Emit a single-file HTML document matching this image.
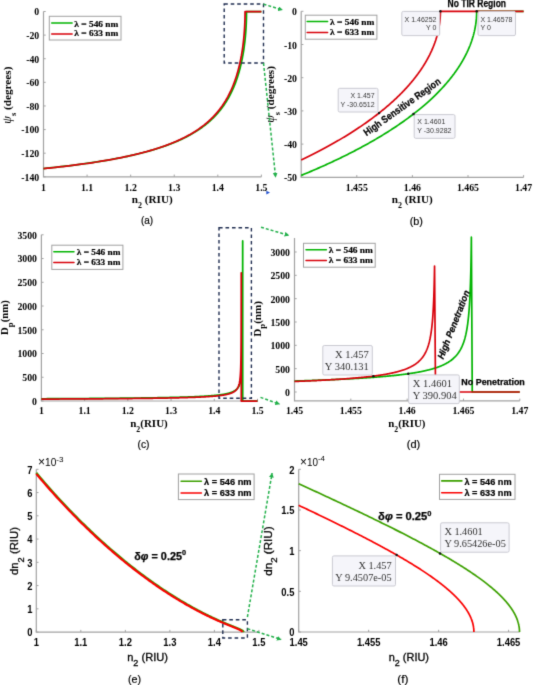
<!DOCTYPE html>
<html><head><meta charset="utf-8"><style>
html,body{margin:0;padding:0;background:#fff;overflow:hidden;}
svg{display:block;}
</style></head><body>
<svg width="533" height="685" viewBox="0 0 533 685">
<defs><filter id="soft" x="0" y="0" width="533" height="685" filterUnits="userSpaceOnUse" color-interpolation-filters="sRGB"><feConvolveMatrix order="3" kernelMatrix="0.0144 0.0912 0.0144 0.0912 0.5776 0.0912 0.0144 0.0912 0.0144" edgeMode="duplicate"/></filter></defs>
<rect width="533" height="685" fill="#fff"/>
<g filter="url(#soft)">
<rect width="533" height="685" fill="#fff"/>
<path d="M43.5 11.5 V176.8 H261.4" fill="none" stroke="#a2a2a2" stroke-width="1.2"/>
<path d="M43.5 176.8 v-2.2" stroke="#a2a2a2" stroke-width="1"/>
<path d="M87.08 176.8 v-2.2" stroke="#a2a2a2" stroke-width="1"/>
<path d="M130.66 176.8 v-2.2" stroke="#a2a2a2" stroke-width="1"/>
<path d="M174.24 176.8 v-2.2" stroke="#a2a2a2" stroke-width="1"/>
<path d="M217.82 176.8 v-2.2" stroke="#a2a2a2" stroke-width="1"/>
<path d="M261.4 176.8 v-2.2" stroke="#a2a2a2" stroke-width="1"/>
<path d="M43.5 11.5 h2.2" stroke="#a2a2a2" stroke-width="1"/>
<path d="M43.5 35.11 h2.2" stroke="#a2a2a2" stroke-width="1"/>
<path d="M43.5 58.73 h2.2" stroke="#a2a2a2" stroke-width="1"/>
<path d="M43.5 82.34 h2.2" stroke="#a2a2a2" stroke-width="1"/>
<path d="M43.5 105.96 h2.2" stroke="#a2a2a2" stroke-width="1"/>
<path d="M43.5 129.57 h2.2" stroke="#a2a2a2" stroke-width="1"/>
<path d="M43.5 153.19 h2.2" stroke="#a2a2a2" stroke-width="1"/>
<path d="M43.5 176.8 h2.2" stroke="#a2a2a2" stroke-width="1"/>
<text x="39.2" y="15.4" font-family='"Liberation Serif", serif' font-size="9.8" font-weight="bold" text-anchor="end" fill="#000">0</text>
<text x="39.2" y="39.01" font-family='"Liberation Serif", serif' font-size="9.8" font-weight="bold" text-anchor="end" fill="#000">-20</text>
<text x="39.2" y="62.63" font-family='"Liberation Serif", serif' font-size="9.8" font-weight="bold" text-anchor="end" fill="#000">-40</text>
<text x="39.2" y="86.24" font-family='"Liberation Serif", serif' font-size="9.8" font-weight="bold" text-anchor="end" fill="#000">-60</text>
<text x="39.2" y="109.86" font-family='"Liberation Serif", serif' font-size="9.8" font-weight="bold" text-anchor="end" fill="#000">-80</text>
<text x="39.2" y="133.47" font-family='"Liberation Serif", serif' font-size="9.8" font-weight="bold" text-anchor="end" fill="#000">-100</text>
<text x="39.2" y="157.09" font-family='"Liberation Serif", serif' font-size="9.8" font-weight="bold" text-anchor="end" fill="#000">-120</text>
<text x="39.2" y="180.7" font-family='"Liberation Serif", serif' font-size="9.8" font-weight="bold" text-anchor="end" fill="#000">-140</text>
<text x="43.5" y="190.9" font-family='"Liberation Serif", serif' font-size="9.8" font-weight="bold" text-anchor="middle" fill="#000">1</text>
<text x="87.08" y="190.9" font-family='"Liberation Serif", serif' font-size="9.8" font-weight="bold" text-anchor="middle" fill="#000">1.1</text>
<text x="130.66" y="190.9" font-family='"Liberation Serif", serif' font-size="9.8" font-weight="bold" text-anchor="middle" fill="#000">1.2</text>
<text x="174.24" y="190.9" font-family='"Liberation Serif", serif' font-size="9.8" font-weight="bold" text-anchor="middle" fill="#000">1.3</text>
<text x="217.82" y="190.9" font-family='"Liberation Serif", serif' font-size="9.8" font-weight="bold" text-anchor="middle" fill="#000">1.4</text>
<text x="261.4" y="190.9" font-family='"Liberation Serif", serif' font-size="9.8" font-weight="bold" text-anchor="middle" fill="#000">1.5</text>
<path d="M43.5 168.53 L45.52 168.33 L47.53 168.13 L49.53 167.92 L51.51 167.71 L53.48 167.5 L55.44 167.29 L57.38 167.08 L59.31 166.87 L61.23 166.65 L63.13 166.43 L65.02 166.21 L66.9 165.99 L68.76 165.77 L70.61 165.54 L72.45 165.31 L74.28 165.08 L76.09 164.85 L77.89 164.62 L79.68 164.38 L81.45 164.14 L83.21 163.9 L84.96 163.66 L86.7 163.42 L88.42 163.17 L90.14 162.92 L91.83 162.67 L93.52 162.42 L95.2 162.16 L96.86 161.91 L98.51 161.65 L100.15 161.39 L101.77 161.12 L103.39 160.86 L104.99 160.59 L106.58 160.32 L108.16 160.05 L109.72 159.77 L111.28 159.49 L112.82 159.21 L114.35 158.93 L115.87 158.65 L117.38 158.36 L118.87 158.07 L120.36 157.78 L121.83 157.49 L123.29 157.19 L124.74 156.89 L126.18 156.59 L127.6 156.28 L129.02 155.98 L130.42 155.67 L131.81 155.36 L133.2 155.04 L134.57 154.72 L135.93 154.4 L137.27 154.08 L138.61 153.76 L139.94 153.43 L141.25 153.1 L142.56 152.76 L143.85 152.43 L145.13 152.09 L146.41 151.75 L147.67 151.4 L148.92 151.05 L150.16 150.7 L151.39 150.35 L152.61 149.99 L153.82 149.63 L155.02 149.27 L156.2 148.91 L157.38 148.54 L158.55 148.17 L159.7 147.79 L160.85 147.41 L161.99 147.03 L163.12 146.65 L164.23 146.26 L165.34 145.87 L166.43 145.48 L167.52 145.08 L168.6 144.68 L169.67 144.28 L170.72 143.88 L171.77 143.47 L172.81 143.05 L173.84 142.64 L174.85 142.22 L175.86 141.79 L176.86 141.37 L177.85 140.94 L178.83 140.51 L179.8 140.07 L180.77 139.63 L181.72 139.19 L182.66 138.74 L183.6 138.29 L184.52 137.83 L185.44 137.38 L186.34 136.91 L187.24 136.45 L188.13 135.98 L189.01 135.51 L189.88 135.03 L190.74 134.55 L191.59 134.07 L192.44 133.58 L193.28 133.09 L194.1 132.6 L194.92 132.1 L195.73 131.6 L196.53 131.09 L197.32 130.58 L198.11 130.07 L198.89 129.55 L199.65 129.03 L200.41 128.51 L201.16 127.98 L201.91 127.44 L202.64 126.91 L203.37 126.37 L204.09 125.82 L204.8 125.27 L205.5 124.72 L206.19 124.16 L206.88 123.6 L207.56 123.04 L208.23 122.47 L208.9 121.9 L209.55 121.32 L210.2 120.74 L210.84 120.16 L211.47 119.57 L212.1 118.98 L212.71 118.38 L213.33 117.78 L213.93 117.18 L214.52 116.57 L215.11 115.96 L215.69 115.34 L216.27 114.72 L216.83 114.09 L217.39 113.47 L217.95 112.83 L218.49 112.2 L219.03 111.56 L219.56 110.92 L220.09 110.27 L220.6 109.62 L221.11 108.96 L221.62 108.3 L222.12 107.64 L222.61 106.97 L223.09 106.3 L223.57 105.63 L224.04 104.95 L224.5 104.27 L224.96 103.58 L225.41 102.89 L225.86 102.2 L226.3 101.51 L226.73 100.81 L227.16 100.1 L227.58 99.4 L227.99 98.69 L228.4 97.97 L228.8 97.26 L229.2 96.54 L229.59 95.82 L229.97 95.09 L230.35 94.36 L230.72 93.63 L231.09 92.89 L231.45 92.16 L231.8 91.42 L232.15 90.67 L232.5 89.93 L232.84 89.18 L233.17 88.42 L233.5 87.67 L233.82 86.91 L234.13 86.15 L234.45 85.39 L234.75 84.63 L235.05 83.86 L235.35 83.1 L235.64 82.33 L235.92 81.55 L236.21 80.78 L236.48 80 L236.75 79.23 L237.02 78.45 L237.28 77.67 L237.53 76.89 L237.78 76.1 L238.03 75.32 L238.27 74.53 L238.51 73.75 L238.74 72.96 L238.97 72.17 L239.19 71.39 L239.41 70.6 L239.63 69.81 L239.84 69.02 L240.04 68.23 L240.24 67.44 L240.44 66.65 L240.63 65.86 L240.82 65.06 L241.01 64.28 L241.19 63.49 L241.36 62.7 L241.54 61.91 L241.71 61.12 L241.87 60.33 L242.03 59.55 L242.19 58.76 L242.34 57.98 L242.49 57.2 L242.64 56.42 L242.78 55.64 L242.92 54.86 L243.05 54.09 L243.19 53.32 L243.32 52.55 L243.44 51.78 L243.56 51.01 L243.68 50.25 L243.8 49.49 L243.91 48.73 L244.02 47.97 L244.12 47.22 L244.23 46.47 L244.33 45.73 L244.42 44.99 L244.52 44.25 L244.61 43.51 L244.7 42.78 L244.78 42.05 L244.86 41.33 L244.94 40.61 L245.02 39.9 L245.09 39.19 L245.17 38.48 L245.24 37.78 L245.3 37.09 L245.37 36.4 L245.43 35.71 L245.49 35.03 L245.55 34.35 L245.6 33.69 L245.66 33.02 L245.71 32.36 L245.76 31.71 L245.8 31.07 L245.85 30.43 L245.89 29.79 L245.93 29.17 L245.97 28.55 L246.01 27.93 L246.04 27.33 L246.07 26.73 L246.11 26.13 L246.14 25.55 L246.16 24.97 L246.19 24.4 L246.22 23.84 L246.24 23.29 L246.26 22.74 L246.28 22.2 L246.3 21.68 L246.32 21.16 L246.34 20.65 L246.35 20.14 L246.37 19.65 L246.38 19.17 L246.4 18.69 L246.41 18.23 L246.42 17.78 L246.43 17.34 L246.44 16.9 L246.44 16.48 L246.45 16.07 L246.46 15.68 L246.46 15.29 L246.47 14.92 L246.47 14.56 L246.47 14.21 L246.48 13.88 L246.48 13.56 L246.48 13.26 L246.48 12.98 L246.48 12.71 L246.49 12.46 L246.49 12.23 L246.49 12.02 L246.49 11.84 L246.49 11.68 L246.49 11.57 L246.49 11.5 L261.4 11.5" fill="none" stroke="#00b400" stroke-width="1.75" stroke-linejoin="round"/>
<path d="M43.5 168.62 L45.51 168.42 L47.5 168.21 L49.49 168.01 L51.46 167.8 L53.41 167.59 L55.35 167.38 L57.28 167.17 L59.2 166.95 L61.1 166.74 L62.99 166.52 L64.87 166.3 L66.73 166.08 L68.58 165.85 L70.42 165.63 L72.25 165.4 L74.06 165.17 L75.86 164.94 L77.65 164.7 L79.42 164.47 L81.19 164.23 L82.94 163.99 L84.67 163.75 L86.4 163.5 L88.11 163.26 L89.81 163.01 L91.5 162.76 L93.17 162.51 L94.83 162.25 L96.49 162 L98.12 161.74 L99.75 161.48 L101.37 161.21 L102.97 160.95 L104.56 160.68 L106.14 160.41 L107.7 160.13 L109.26 159.86 L110.8 159.58 L112.33 159.3 L113.85 159.02 L115.36 158.74 L116.86 158.45 L118.34 158.16 L119.82 157.87 L121.28 157.57 L122.73 157.28 L124.17 156.98 L125.6 156.68 L127.01 156.37 L128.42 156.07 L129.81 155.76 L131.2 155.44 L132.57 155.13 L133.93 154.81 L135.28 154.49 L136.62 154.17 L137.95 153.85 L139.26 153.52 L140.57 153.19 L141.86 152.85 L143.15 152.52 L144.42 152.18 L145.69 151.84 L146.94 151.49 L148.18 151.14 L149.41 150.79 L150.63 150.44 L151.84 150.08 L153.04 149.72 L154.23 149.36 L155.41 149 L156.58 148.63 L157.74 148.26 L158.89 147.88 L160.03 147.51 L161.16 147.13 L162.28 146.74 L163.39 146.35 L164.49 145.96 L165.57 145.57 L166.65 145.18 L167.72 144.78 L168.78 144.37 L169.83 143.97 L170.87 143.56 L171.9 143.15 L172.92 142.73 L173.93 142.31 L174.94 141.89 L175.93 141.46 L176.91 141.03 L177.89 140.6 L178.85 140.16 L179.8 139.72 L180.75 139.28 L181.69 138.83 L182.61 138.38 L183.53 137.93 L184.44 137.47 L185.34 137.01 L186.23 136.54 L187.12 136.07 L187.99 135.6 L188.86 135.13 L189.71 134.65 L190.56 134.16 L191.4 133.68 L192.23 133.19 L193.05 132.69 L193.86 132.19 L194.67 131.69 L195.46 131.19 L196.25 130.68 L197.03 130.16 L197.8 129.65 L198.56 129.12 L199.31 128.6 L200.06 128.07 L200.8 127.54 L201.53 127 L202.25 126.46 L202.96 125.91 L203.67 125.37 L204.37 124.81 L205.06 124.26 L205.74 123.7 L206.41 123.13 L207.08 122.56 L207.74 121.99 L208.39 121.42 L209.03 120.83 L209.67 120.25 L210.3 119.66 L210.92 119.07 L211.53 118.47 L212.14 117.87 L212.74 117.27 L213.33 116.66 L213.91 116.05 L214.49 115.43 L215.06 114.81 L215.62 114.19 L216.18 113.56 L216.72 112.93 L217.27 112.29 L217.8 111.65 L218.33 111.01 L218.85 110.36 L219.36 109.71 L219.87 109.05 L220.37 108.39 L220.86 107.73 L221.35 107.06 L221.83 106.39 L222.31 105.72 L222.77 105.04 L223.24 104.36 L223.69 103.67 L224.14 102.98 L224.58 102.29 L225.02 101.59 L225.45 100.9 L225.87 100.19 L226.29 99.49 L226.7 98.78 L227.1 98.06 L227.5 97.35 L227.9 96.63 L228.28 95.9 L228.66 95.18 L229.04 94.45 L229.41 93.71 L229.77 92.98 L230.13 92.24 L230.49 91.5 L230.83 90.76 L231.17 90.01 L231.51 89.26 L231.84 88.51 L232.17 87.75 L232.49 86.99 L232.8 86.24 L233.11 85.47 L233.41 84.71 L233.71 83.94 L234.01 83.17 L234.29 82.4 L234.58 81.63 L234.86 80.86 L235.13 80.08 L235.4 79.3 L235.66 78.52 L235.92 77.74 L236.17 76.96 L236.42 76.18 L236.67 75.39 L236.91 74.61 L237.14 73.82 L237.37 73.03 L237.6 72.24 L237.82 71.45 L238.04 70.66 L238.25 69.87 L238.46 69.08 L238.67 68.29 L238.87 67.5 L239.06 66.71 L239.25 65.92 L239.44 65.13 L239.62 64.34 L239.8 63.55 L239.98 62.76 L240.15 61.97 L240.32 61.18 L240.48 60.39 L240.64 59.61 L240.8 58.82 L240.95 58.04 L241.1 57.26 L241.24 56.48 L241.39 55.7 L241.52 54.92 L241.66 54.14 L241.79 53.37 L241.92 52.6 L242.04 51.83 L242.16 51.06 L242.28 50.3 L242.39 49.54 L242.51 48.78 L242.61 48.02 L242.72 47.27 L242.82 46.52 L242.92 45.77 L243.02 45.03 L243.11 44.29 L243.2 43.55 L243.29 42.82 L243.37 42.09 L243.45 41.37 L243.53 40.65 L243.61 39.93 L243.68 39.22 L243.76 38.52 L243.82 37.82 L243.89 37.12 L243.95 36.43 L244.02 35.74 L244.08 35.06 L244.13 34.38 L244.19 33.71 L244.24 33.05 L244.29 32.39 L244.34 31.74 L244.39 31.09 L244.43 30.45 L244.47 29.82 L244.51 29.19 L244.55 28.57 L244.59 27.95 L244.62 27.35 L244.66 26.75 L244.69 26.15 L244.72 25.57 L244.75 24.99 L244.77 24.42 L244.8 23.86 L244.82 23.3 L244.84 22.76 L244.86 22.22 L244.88 21.69 L244.9 21.17 L244.92 20.66 L244.94 20.15 L244.95 19.66 L244.96 19.18 L244.98 18.7 L244.99 18.24 L245 17.79 L245.01 17.34 L245.02 16.91 L245.02 16.49 L245.03 16.08 L245.04 15.68 L245.04 15.3 L245.05 14.92 L245.05 14.56 L245.05 14.22 L245.06 13.88 L245.06 13.57 L245.06 13.27 L245.06 12.98 L245.06 12.71 L245.06 12.46 L245.07 12.23 L245.07 12.02 L245.07 11.84 L245.07 11.68 L245.07 11.57 L245.07 11.5 L261.4 11.5" fill="none" stroke="#d8000a" stroke-width="1.75" stroke-linejoin="round"/>
<rect x="49.3" y="16.3" width="71.7" height="23.7" fill="#fff" stroke="#a0a0a0" stroke-width="1"/>
<path d="M51.7 22.9 H72.1" stroke="#00b400" stroke-width="1.5" stroke-linecap="round"/>
<path d="M51.7 33.9 H72.1" stroke="#d8000a" stroke-width="1.5" stroke-linecap="round"/>
<text x="74.3" y="26.5" font-family='"Liberation Serif", serif' font-size="9.2" font-weight="bold" text-anchor="start" fill="#000" textLength="44.1" lengthAdjust="spacingAndGlyphs" stroke="#000" stroke-width="0.2">&#955; = 546 nm</text>
<text x="74.3" y="36.4" font-family='"Liberation Serif", serif' font-size="9.2" font-weight="bold" text-anchor="start" fill="#000" textLength="44.1" lengthAdjust="spacingAndGlyphs" stroke="#000" stroke-width="0.2">&#955; = 633 nm</text>
<g transform="translate(10.9 123.8) rotate(-90)">
<text x="0" y="0" font-family='"Liberation Serif", serif' font-size="10.8" font-weight="bold" text-anchor="start" fill="#000" textLength="57.2" lengthAdjust="spacingAndGlyphs"><tspan font-style="italic" font-weight="normal" font-size="12">&#968;</tspan><tspan dy="5.4" font-size="8">s</tspan><tspan dy="-5.4"> (degrees)</tspan></text>
</g>
<text x="131.7" y="203.3" font-family='"Liberation Serif", serif' font-size="10.5" font-weight="bold" text-anchor="start" fill="#000" textLength="41" lengthAdjust="spacingAndGlyphs">n<tspan dy="5" font-size="7.5">2</tspan><tspan dy="-5"> (RIU)</tspan></text>
<text x="140.9" y="224" font-family='"Liberation Sans", sans-serif' font-size="11.5" font-weight="normal" text-anchor="start" fill="#000" textLength="12.2" lengthAdjust="spacingAndGlyphs" stroke="#000" stroke-width="0.2">(a)</text>
<rect x="224.2" y="4" width="39.3" height="59" fill="none" stroke="#1f2d50" stroke-width="1.4" stroke-dasharray="3.6 2.9"/>
<path d="M301.2 11.3 V177.3 H523.6" fill="none" stroke="#a2a2a2" stroke-width="1.2"/>
<path d="M301.2 177.3 v-2.2" stroke="#a2a2a2" stroke-width="1"/>
<path d="M356.8 177.3 v-2.2" stroke="#a2a2a2" stroke-width="1"/>
<path d="M412.4 177.3 v-2.2" stroke="#a2a2a2" stroke-width="1"/>
<path d="M468 177.3 v-2.2" stroke="#a2a2a2" stroke-width="1"/>
<path d="M523.6 177.3 v-2.2" stroke="#a2a2a2" stroke-width="1"/>
<path d="M301.2 11.3 h2.2" stroke="#a2a2a2" stroke-width="1"/>
<path d="M301.2 44.5 h2.2" stroke="#a2a2a2" stroke-width="1"/>
<path d="M301.2 77.7 h2.2" stroke="#a2a2a2" stroke-width="1"/>
<path d="M301.2 110.9 h2.2" stroke="#a2a2a2" stroke-width="1"/>
<path d="M301.2 144.1 h2.2" stroke="#a2a2a2" stroke-width="1"/>
<path d="M301.2 177.3 h2.2" stroke="#a2a2a2" stroke-width="1"/>
<text x="297" y="15.3" font-family='"Liberation Serif", serif' font-size="9.8" font-weight="bold" text-anchor="end" fill="#000">0</text>
<text x="297" y="48.5" font-family='"Liberation Serif", serif' font-size="9.8" font-weight="bold" text-anchor="end" fill="#000">-10</text>
<text x="297" y="81.7" font-family='"Liberation Serif", serif' font-size="9.8" font-weight="bold" text-anchor="end" fill="#000">-20</text>
<text x="297" y="114.9" font-family='"Liberation Serif", serif' font-size="9.8" font-weight="bold" text-anchor="end" fill="#000">-30</text>
<text x="297" y="148.1" font-family='"Liberation Serif", serif' font-size="9.8" font-weight="bold" text-anchor="end" fill="#000">-40</text>
<text x="297" y="181.3" font-family='"Liberation Serif", serif' font-size="9.8" font-weight="bold" text-anchor="end" fill="#000">-50</text>
<text x="356.8" y="190.6" font-family='"Liberation Serif", serif' font-size="9.8" font-weight="bold" text-anchor="middle" fill="#000">1.455</text>
<text x="412.4" y="190.6" font-family='"Liberation Serif", serif' font-size="9.8" font-weight="bold" text-anchor="middle" fill="#000">1.46</text>
<text x="468" y="190.6" font-family='"Liberation Serif", serif' font-size="9.8" font-weight="bold" text-anchor="middle" fill="#000">1.465</text>
<text x="523.6" y="190.6" font-family='"Liberation Serif", serif' font-size="9.8" font-weight="bold" text-anchor="middle" fill="#000">1.47</text>
<path d="M301.2 175.41 L302.51 174.87 L303.82 174.33 L305.12 173.79 L306.41 173.25 L307.7 172.72 L308.98 172.18 L310.25 171.64 L311.52 171.1 L312.78 170.56 L314.03 170.02 L315.28 169.48 L316.52 168.94 L317.76 168.4 L318.99 167.86 L320.21 167.32 L321.43 166.78 L322.64 166.24 L323.84 165.7 L325.04 165.16 L326.23 164.63 L327.41 164.09 L328.59 163.55 L329.76 163.01 L330.93 162.47 L332.09 161.93 L333.24 161.39 L334.39 160.85 L335.53 160.31 L336.67 159.77 L337.79 159.23 L338.92 158.7 L340.03 158.16 L341.15 157.62 L342.25 157.08 L343.35 156.54 L344.44 156 L345.53 155.47 L346.61 154.93 L347.68 154.39 L348.75 153.85 L349.82 153.31 L350.87 152.78 L351.92 152.24 L352.97 151.7 L354.01 151.16 L355.04 150.63 L356.07 150.09 L357.09 149.55 L358.11 149.02 L359.12 148.48 L360.12 147.94 L361.12 147.41 L362.12 146.87 L363.1 146.34 L364.09 145.8 L365.06 145.27 L366.03 144.73 L367 144.2 L367.96 143.66 L368.91 143.13 L369.86 142.59 L370.8 142.06 L371.74 141.52 L372.67 140.99 L373.6 140.46 L374.52 139.92 L375.43 139.39 L376.34 138.86 L377.24 138.33 L378.14 137.79 L379.04 137.26 L379.92 136.73 L380.81 136.2 L381.68 135.67 L382.55 135.14 L383.42 134.61 L384.28 134.08 L385.14 133.55 L385.99 133.02 L386.83 132.49 L387.67 131.96 L388.51 131.43 L389.33 130.9 L390.16 130.38 L390.98 129.85 L391.79 129.32 L392.6 128.8 L393.4 128.27 L394.2 127.74 L394.99 127.22 L395.78 126.69 L396.56 126.17 L397.34 125.64 L398.11 125.12 L398.88 124.59 L399.64 124.07 L400.4 123.55 L401.16 123.03 L401.9 122.5 L402.65 121.98 L403.38 121.46 L404.12 120.94 L404.84 120.42 L405.57 119.9 L406.29 119.38 L407 118.86 L407.71 118.34 L408.41 117.82 L409.11 117.31 L409.8 116.79 L410.49 116.27 L411.18 115.76 L411.86 115.24 L412.53 114.72 L413.2 114.21 L413.87 113.7 L414.53 113.18 L415.19 112.67 L415.84 112.16 L416.49 111.64 L417.13 111.13 L417.77 110.62 L418.4 110.11 L419.03 109.6 L419.65 109.09 L420.27 108.58 L420.89 108.07 L421.5 107.56 L422.11 107.06 L422.71 106.55 L423.3 106.04 L423.9 105.54 L424.49 105.03 L425.07 104.53 L425.65 104.03 L426.23 103.52 L426.8 103.02 L427.36 102.52 L427.93 102.02 L428.48 101.52 L429.04 101.02 L429.59 100.52 L430.13 100.02 L430.67 99.52 L431.21 99.02 L431.74 98.52 L432.27 98.03 L432.8 97.53 L433.32 97.04 L433.83 96.54 L434.35 96.05 L434.85 95.56 L435.36 95.06 L435.86 94.57 L436.35 94.08 L436.84 93.59 L437.33 93.1 L437.82 92.61 L438.3 92.13 L438.77 91.64 L439.24 91.15 L439.71 90.67 L440.17 90.18 L440.64 89.7 L441.09 89.22 L441.54 88.73 L441.99 88.25 L442.44 87.77 L442.88 87.29 L443.31 86.81 L443.75 86.33 L444.18 85.85 L444.6 85.38 L445.02 84.9 L445.44 84.42 L445.86 83.95 L446.27 83.48 L446.68 83 L447.08 82.53 L447.48 82.06 L447.88 81.59 L448.27 81.12 L448.66 80.65 L449.04 80.18 L449.42 79.71 L449.8 79.25 L450.18 78.78 L450.55 78.32 L450.92 77.85 L451.28 77.39 L451.64 76.93 L452 76.47 L452.35 76.01 L452.71 75.55 L453.05 75.09 L453.4 74.63 L453.74 74.18 L454.07 73.72 L454.41 73.27 L454.74 72.81 L455.07 72.36 L455.39 71.91 L455.71 71.46 L456.03 71.01 L456.34 70.56 L456.65 70.11 L456.96 69.67 L457.27 69.22 L457.57 68.78 L457.87 68.33 L458.16 67.89 L458.46 67.45 L458.74 67.01 L459.03 66.57 L459.31 66.13 L459.59 65.69 L459.87 65.25 L460.14 64.82 L460.42 64.38 L460.68 63.95 L460.95 63.52 L461.21 63.09 L461.47 62.66 L461.73 62.23 L461.98 61.8 L462.23 61.37 L462.48 60.95 L462.72 60.52 L462.96 60.1 L463.2 59.68 L463.44 59.25 L463.67 58.83 L463.9 58.41 L464.13 58 L464.36 57.58 L464.58 57.16 L464.8 56.75 L465.02 56.33 L465.23 55.92 L465.44 55.51 L465.65 55.1 L465.86 54.69 L466.06 54.28 L466.26 53.88 L466.46 53.47 L466.66 53.07 L466.85 52.67 L467.05 52.26 L467.23 51.86 L467.42 51.46 L467.6 51.07 L467.79 50.67 L467.96 50.27 L468.14 49.88 L468.31 49.49 L468.49 49.1 L468.66 48.71 L468.82 48.32 L468.99 47.93 L469.15 47.54 L469.31 47.16 L469.47 46.77 L469.62 46.39 L469.78 46.01 L469.93 45.63 L470.08 45.25 L470.22 44.87 L470.37 44.5 L470.51 44.12 L470.65 43.75 L470.79 43.38 L470.92 43.01 L471.06 42.64 L471.19 42.27 L471.32 41.9 L471.45 41.54 L471.57 41.18 L471.69 40.81 L471.82 40.45 L471.94 40.09 L472.05 39.74 L472.17 39.38 L472.28 39.02 L472.39 38.67 L472.5 38.32 L472.61 37.97 L472.72 37.62 L472.82 37.27 L472.92 36.93 L473.02 36.58 L473.12 36.24 L473.22 35.9 L473.31 35.56 L473.41 35.22 L473.5 34.88 L473.59 34.55 L473.68 34.21 L473.76 33.88 L473.85 33.55 L473.93 33.22 L474.01 32.9 L474.09 32.57 L474.17 32.25 L474.25 31.92 L474.32 31.6 L474.4 31.28 L474.47 30.97 L474.54 30.65 L474.61 30.34 L474.67 30.02 L474.74 29.71 L474.81 29.4 L474.87 29.1 L474.93 28.79 L474.99 28.49 L475.05 28.19 L475.11 27.89 L475.16 27.59 L475.22 27.29 L475.27 27 L475.32 26.7 L475.37 26.41 L475.42 26.12 L475.47 25.83 L475.52 25.55 L475.56 25.26 L475.61 24.98 L475.65 24.7 L475.69 24.42 L475.73 24.15 L475.77 23.87 L475.81 23.6 L475.85 23.33 L475.89 23.06 L475.92 22.8 L475.95 22.53 L475.99 22.27 L476.02 22.01 L476.05 21.75 L476.08 21.5 L476.11 21.24 L476.14 20.99 L476.17 20.74 L476.19 20.5 L476.22 20.25 L476.24 20.01 L476.27 19.77 L476.29 19.53 L476.31 19.29 L476.33 19.06 L476.35 18.83 L476.37 18.6 L476.39 18.37 L476.41 18.15 L476.42 17.92 L476.44 17.71 L476.46 17.49 L476.47 17.27 L476.48 17.06 L476.5 16.85 L476.51 16.65 L476.52 16.44 L476.53 16.24 L476.55 16.04 L476.56 15.84 L476.57 15.65 L476.58 15.46 L476.58 15.27 L476.59 15.09 L476.6 14.91 L476.61 14.73 L476.61 14.55 L476.62 14.38 L476.63 14.21 L476.63 14.04 L476.64 13.88 L476.64 13.72 L476.64 13.56 L476.65 13.41 L476.65 13.26 L476.65 13.12 L476.66 12.98 L476.66 12.84 L476.66 12.7 L476.66 12.58 L476.67 12.45 L476.67 12.33 L476.67 12.21 L476.67 12.1 L476.67 11.99 L476.67 11.89 L476.67 11.8 L476.67 11.71 L476.67 11.62 L476.67 11.55 L476.67 11.48 L476.67 11.41 L476.67 11.36 L476.67 11.32 L476.67 11.3 L523.6 11.3" fill="none" stroke="#00b400" stroke-width="1.7" stroke-linejoin="round"/>
<path d="M301.2 160.04 L302.24 159.54 L303.28 159.04 L304.31 158.54 L305.34 158.04 L306.36 157.54 L307.37 157.04 L308.38 156.54 L309.39 156.04 L310.39 155.54 L311.38 155.04 L312.37 154.54 L313.36 154.04 L314.34 153.54 L315.31 153.04 L316.28 152.55 L317.25 152.05 L318.21 151.55 L319.16 151.05 L320.11 150.55 L321.06 150.05 L322 149.55 L322.93 149.05 L323.86 148.56 L324.79 148.06 L325.71 147.56 L326.62 147.06 L327.53 146.56 L328.44 146.07 L329.34 145.57 L330.23 145.07 L331.13 144.58 L332.01 144.08 L332.89 143.58 L333.77 143.09 L334.64 142.59 L335.51 142.09 L336.37 141.6 L337.23 141.1 L338.08 140.61 L338.93 140.11 L339.77 139.62 L340.61 139.12 L341.45 138.63 L342.27 138.13 L343.1 137.64 L343.92 137.15 L344.74 136.65 L345.55 136.16 L346.35 135.67 L347.15 135.17 L347.95 134.68 L348.74 134.19 L349.53 133.7 L350.32 133.2 L351.09 132.71 L351.87 132.22 L352.64 131.73 L353.4 131.24 L354.17 130.75 L354.92 130.26 L355.67 129.77 L356.42 129.28 L357.17 128.79 L357.9 128.3 L358.64 127.81 L359.37 127.32 L360.1 126.84 L360.82 126.35 L361.53 125.86 L362.25 125.37 L362.96 124.89 L363.66 124.4 L364.36 123.92 L365.06 123.43 L365.75 122.94 L366.43 122.46 L367.12 121.97 L367.8 121.49 L368.47 121.01 L369.14 120.52 L369.81 120.04 L370.47 119.56 L371.13 119.08 L371.78 118.59 L372.43 118.11 L373.08 117.63 L373.72 117.15 L374.35 116.67 L374.99 116.19 L375.62 115.71 L376.24 115.23 L376.86 114.75 L377.48 114.27 L378.09 113.8 L378.7 113.32 L379.31 112.84 L379.91 112.37 L380.51 111.89 L381.1 111.41 L381.69 110.94 L382.27 110.46 L382.85 109.99 L383.43 109.52 L384.01 109.04 L384.58 108.57 L385.14 108.1 L385.7 107.63 L386.26 107.16 L386.82 106.68 L387.37 106.21 L387.91 105.74 L388.46 105.28 L389 104.81 L389.53 104.34 L390.06 103.87 L390.59 103.4 L391.12 102.94 L391.64 102.47 L392.16 102.01 L392.67 101.54 L393.18 101.08 L393.69 100.61 L394.19 100.15 L394.69 99.69 L395.18 99.22 L395.67 98.76 L396.16 98.3 L396.65 97.84 L397.13 97.38 L397.6 96.92 L398.08 96.46 L398.55 96 L399.02 95.54 L399.48 95.09 L399.94 94.63 L400.4 94.18 L400.85 93.72 L401.3 93.27 L401.75 92.81 L402.19 92.36 L402.63 91.91 L403.06 91.45 L403.5 91 L403.93 90.55 L404.35 90.1 L404.77 89.65 L405.19 89.2 L405.61 88.75 L406.02 88.31 L406.43 87.86 L406.84 87.41 L407.24 86.97 L407.64 86.52 L408.04 86.08 L408.43 85.64 L408.82 85.19 L409.21 84.75 L409.59 84.31 L409.97 83.87 L410.35 83.43 L410.72 82.99 L411.1 82.55 L411.46 82.11 L411.83 81.67 L412.19 81.24 L412.55 80.8 L412.91 80.37 L413.26 79.93 L413.61 79.5 L413.95 79.07 L414.3 78.64 L414.64 78.2 L414.98 77.77 L415.31 77.34 L415.64 76.92 L415.97 76.49 L416.3 76.06 L416.62 75.63 L416.94 75.21 L417.26 74.78 L417.57 74.36 L417.89 73.94 L418.19 73.51 L418.5 73.09 L418.8 72.67 L419.1 72.25 L419.4 71.83 L419.7 71.41 L419.99 70.99 L420.28 70.58 L420.56 70.16 L420.85 69.75 L421.13 69.33 L421.41 68.92 L421.68 68.51 L421.95 68.1 L422.22 67.68 L422.49 67.27 L422.76 66.87 L423.02 66.46 L423.28 66.05 L423.54 65.64 L423.79 65.24 L424.04 64.83 L424.29 64.43 L424.54 64.03 L424.78 63.63 L425.03 63.22 L425.26 62.82 L425.5 62.43 L425.74 62.03 L425.97 61.63 L426.2 61.23 L426.42 60.84 L426.65 60.44 L426.87 60.05 L427.09 59.66 L427.31 59.27 L427.52 58.88 L427.74 58.49 L427.95 58.1 L428.15 57.71 L428.36 57.32 L428.56 56.94 L428.76 56.55 L428.96 56.17 L429.16 55.79 L429.35 55.41 L429.55 55.03 L429.73 54.65 L429.92 54.27 L430.11 53.89 L430.29 53.51 L430.47 53.14 L430.65 52.76 L430.83 52.39 L431 52.02 L431.17 51.65 L431.34 51.28 L431.51 50.91 L431.68 50.54 L431.84 50.17 L432 49.81 L432.16 49.44 L432.32 49.08 L432.48 48.72 L432.63 48.35 L432.78 47.99 L432.93 47.64 L433.08 47.28 L433.23 46.92 L433.37 46.56 L433.51 46.21 L433.65 45.86 L433.79 45.5 L433.93 45.15 L434.06 44.8 L434.19 44.45 L434.32 44.11 L434.45 43.76 L434.58 43.41 L434.71 43.07 L434.83 42.73 L434.95 42.38 L435.07 42.04 L435.19 41.7 L435.3 41.37 L435.42 41.03 L435.53 40.69 L435.64 40.36 L435.75 40.03 L435.86 39.69 L435.97 39.36 L436.07 39.03 L436.17 38.7 L436.27 38.38 L436.37 38.05 L436.47 37.73 L436.57 37.4 L436.66 37.08 L436.76 36.76 L436.85 36.44 L436.94 36.12 L437.03 35.81 L437.11 35.49 L437.2 35.18 L437.28 34.87 L437.37 34.55 L437.45 34.24 L437.53 33.94 L437.61 33.63 L437.68 33.32 L437.76 33.02 L437.83 32.71 L437.9 32.41 L437.98 32.11 L438.05 31.81 L438.11 31.52 L438.18 31.22 L438.25 30.93 L438.31 30.63 L438.37 30.34 L438.44 30.05 L438.5 29.76 L438.56 29.48 L438.62 29.19 L438.67 28.91 L438.73 28.62 L438.78 28.34 L438.84 28.06 L438.89 27.78 L438.94 27.51 L438.99 27.23 L439.04 26.96 L439.09 26.69 L439.13 26.42 L439.18 26.15 L439.22 25.88 L439.27 25.61 L439.31 25.35 L439.35 25.09 L439.39 24.83 L439.43 24.57 L439.47 24.31 L439.5 24.05 L439.54 23.8 L439.58 23.55 L439.61 23.3 L439.64 23.05 L439.68 22.8 L439.71 22.56 L439.74 22.31 L439.77 22.07 L439.8 21.83 L439.82 21.59 L439.85 21.36 L439.88 21.12 L439.9 20.89 L439.93 20.66 L439.95 20.43 L439.98 20.2 L440 19.98 L440.02 19.75 L440.04 19.53 L440.06 19.31 L440.08 19.09 L440.1 18.88 L440.12 18.67 L440.13 18.45 L440.15 18.24 L440.17 18.04 L440.18 17.83 L440.2 17.63 L440.21 17.43 L440.22 17.23 L440.24 17.03 L440.25 16.84 L440.26 16.65 L440.27 16.46 L440.28 16.27 L440.29 16.08 L440.3 15.9 L440.31 15.72 L440.32 15.54 L440.33 15.37 L440.34 15.19 L440.34 15.02 L440.35 14.86 L440.36 14.69 L440.36 14.53 L440.37 14.37 L440.37 14.21 L440.38 14.06 L440.38 13.9 L440.39 13.76 L440.39 13.61 L440.4 13.47 L440.4 13.33 L440.4 13.19 L440.4 13.06 L440.41 12.93 L440.41 12.8 L440.41 12.68 L440.41 12.56 L440.42 12.44 L440.42 12.33 L440.42 12.22 L440.42 12.12 L440.42 12.02 L440.42 11.92 L440.42 11.83 L440.42 11.74 L440.42 11.66 L440.42 11.59 L440.42 11.52 L440.42 11.46 L440.42 11.4 L440.42 11.36 L440.42 11.32 L440.42 11.3 L523.6 11.3" fill="none" stroke="#d8000a" stroke-width="1.7" stroke-linejoin="round"/>
<rect x="305.3" y="15.2" width="71.6" height="24" fill="#fff" stroke="#a0a0a0" stroke-width="1"/>
<path d="M307.1 21.5 H327.6" stroke="#00b400" stroke-width="1.5" stroke-linecap="round"/>
<path d="M307.1 32.5 H327.6" stroke="#d8000a" stroke-width="1.5" stroke-linecap="round"/>
<text x="330" y="25.4" font-family='"Liberation Serif", serif' font-size="9.2" font-weight="bold" text-anchor="start" fill="#000" textLength="44.3" lengthAdjust="spacingAndGlyphs" stroke="#000" stroke-width="0.2">&#955; = 546 nm</text>
<text x="330" y="35.3" font-family='"Liberation Serif", serif' font-size="9.2" font-weight="bold" text-anchor="start" fill="#000" textLength="44.3" lengthAdjust="spacingAndGlyphs" stroke="#000" stroke-width="0.2">&#955; = 633 nm</text>
<g transform="translate(274.2 122.8) rotate(-90)">
<text x="0" y="0" font-family='"Liberation Serif", serif' font-size="10.8" font-weight="bold" text-anchor="start" fill="#000" textLength="56.7" lengthAdjust="spacingAndGlyphs"><tspan font-style="italic" font-weight="normal" font-size="12">&#968;</tspan><tspan dy="5.4" font-size="8">s</tspan><tspan dy="-5.4"> (degrees)</tspan></text>
</g>
<text x="391.7" y="203.3" font-family='"Liberation Serif", serif' font-size="10.5" font-weight="bold" text-anchor="start" fill="#000" textLength="41" lengthAdjust="spacingAndGlyphs">n<tspan dy="5" font-size="7.5">2</tspan><tspan dy="-5"> (RIU)</tspan></text>
<text x="409.65" y="224.6" font-family='"Liberation Sans", sans-serif' font-size="11.5" font-weight="normal" text-anchor="start" fill="#000" textLength="13.3" lengthAdjust="spacingAndGlyphs" stroke="#000" stroke-width="0.2">(b)</text>
<rect x="401.8" y="11.4" width="37.9" height="24.2" rx="1.5" fill="#f5f5fa" stroke="#cacad2" stroke-width="1"/>
<text x="436.5" y="21.9" font-family='"Liberation Sans", sans-serif' font-size="7.0" font-weight="normal" text-anchor="end" fill="#383838">X 1.46252</text>
<text x="436.5" y="30.4" font-family='"Liberation Sans", sans-serif' font-size="7.0" font-weight="normal" text-anchor="end" fill="#383838">Y 0</text>
<rect x="478" y="11.4" width="37.5" height="24.2" rx="1.5" fill="#f5f5fa" stroke="#cacad2" stroke-width="1"/>
<text x="480.5" y="21.9" font-family='"Liberation Sans", sans-serif' font-size="7.0" font-weight="normal" text-anchor="start" fill="#383838">X 1.46578</text>
<text x="480.5" y="30.4" font-family='"Liberation Sans", sans-serif' font-size="7.0" font-weight="normal" text-anchor="start" fill="#383838">Y 0</text>
<rect x="338.2" y="88.3" width="39.8" height="23.7" rx="1.5" fill="#f5f5fa" stroke="#cacad2" stroke-width="1"/>
<text x="374.6" y="98" font-family='"Liberation Sans", sans-serif' font-size="7.0" font-weight="normal" text-anchor="end" fill="#383838">X 1.457</text>
<text x="374.6" y="107" font-family='"Liberation Sans", sans-serif' font-size="7.0" font-weight="normal" text-anchor="end" fill="#383838">Y -30.6512</text>
<rect x="414.2" y="114.6" width="40.8" height="23.7" rx="1.5" fill="#f5f5fa" stroke="#cacad2" stroke-width="1"/>
<text x="417.3" y="124" font-family='"Liberation Sans", sans-serif' font-size="7.0" font-weight="normal" text-anchor="start" fill="#383838">X 1.4601</text>
<text x="417.3" y="133" font-family='"Liberation Sans", sans-serif' font-size="7.0" font-weight="normal" text-anchor="start" fill="#383838">Y -30.9282</text>
<circle cx="440.42" cy="11.3" r="1.25" fill="#111"/>
<circle cx="476.67" cy="11.3" r="1.25" fill="#111"/>
<circle cx="379.04" cy="113.05" r="1.25" fill="#111"/>
<circle cx="413.51" cy="113.97" r="1.25" fill="#111"/>
<text x="447.6" y="6.8" font-family='"Liberation Sans", sans-serif' font-size="10.6" font-weight="bold" text-anchor="start" fill="#000" textLength="58.4" lengthAdjust="spacingAndGlyphs" stroke="#000" stroke-width="0.25">No TIR Region</text>
<g transform="translate(402 106.8) rotate(-35.4)">
<text x="0" y="3.5" font-family='"Liberation Sans", sans-serif' font-size="10" font-weight="bold" text-anchor="middle" fill="#000" textLength="92" lengthAdjust="spacingAndGlyphs" stroke="#000" stroke-width="0.25">High Sensitive Region</text>
</g>
<path d="M41.4 234.8 V401 H257.5" fill="none" stroke="#a2a2a2" stroke-width="1.2"/>
<path d="M41.4 401 v-2.2" stroke="#a2a2a2" stroke-width="1"/>
<path d="M84.62 401 v-2.2" stroke="#a2a2a2" stroke-width="1"/>
<path d="M127.84 401 v-2.2" stroke="#a2a2a2" stroke-width="1"/>
<path d="M171.06 401 v-2.2" stroke="#a2a2a2" stroke-width="1"/>
<path d="M214.28 401 v-2.2" stroke="#a2a2a2" stroke-width="1"/>
<path d="M257.5 401 v-2.2" stroke="#a2a2a2" stroke-width="1"/>
<path d="M41.4 401 h2.2" stroke="#a2a2a2" stroke-width="1"/>
<path d="M41.4 377.26 h2.2" stroke="#a2a2a2" stroke-width="1"/>
<path d="M41.4 353.51 h2.2" stroke="#a2a2a2" stroke-width="1"/>
<path d="M41.4 329.77 h2.2" stroke="#a2a2a2" stroke-width="1"/>
<path d="M41.4 306.03 h2.2" stroke="#a2a2a2" stroke-width="1"/>
<path d="M41.4 282.29 h2.2" stroke="#a2a2a2" stroke-width="1"/>
<path d="M41.4 258.54 h2.2" stroke="#a2a2a2" stroke-width="1"/>
<path d="M41.4 234.8 h2.2" stroke="#a2a2a2" stroke-width="1"/>
<text x="37" y="404.9" font-family='"Liberation Serif", serif' font-size="9.8" font-weight="bold" text-anchor="end" fill="#000">0</text>
<text x="37" y="381.16" font-family='"Liberation Serif", serif' font-size="9.8" font-weight="bold" text-anchor="end" fill="#000">500</text>
<text x="37" y="357.41" font-family='"Liberation Serif", serif' font-size="9.8" font-weight="bold" text-anchor="end" fill="#000">1000</text>
<text x="37" y="333.67" font-family='"Liberation Serif", serif' font-size="9.8" font-weight="bold" text-anchor="end" fill="#000">1500</text>
<text x="37" y="309.93" font-family='"Liberation Serif", serif' font-size="9.8" font-weight="bold" text-anchor="end" fill="#000">2000</text>
<text x="37" y="286.19" font-family='"Liberation Serif", serif' font-size="9.8" font-weight="bold" text-anchor="end" fill="#000">2500</text>
<text x="37" y="262.44" font-family='"Liberation Serif", serif' font-size="9.8" font-weight="bold" text-anchor="end" fill="#000">3000</text>
<text x="37" y="238.7" font-family='"Liberation Serif", serif' font-size="9.8" font-weight="bold" text-anchor="end" fill="#000">3500</text>
<text x="41.4" y="414.3" font-family='"Liberation Serif", serif' font-size="9.8" font-weight="bold" text-anchor="middle" fill="#000">1</text>
<text x="84.62" y="414.3" font-family='"Liberation Serif", serif' font-size="9.8" font-weight="bold" text-anchor="middle" fill="#000">1.1</text>
<text x="127.84" y="414.3" font-family='"Liberation Serif", serif' font-size="9.8" font-weight="bold" text-anchor="middle" fill="#000">1.2</text>
<text x="171.06" y="414.3" font-family='"Liberation Serif", serif' font-size="9.8" font-weight="bold" text-anchor="middle" fill="#000">1.3</text>
<text x="214.28" y="414.3" font-family='"Liberation Serif", serif' font-size="9.8" font-weight="bold" text-anchor="middle" fill="#000">1.4</text>
<text x="257.5" y="414.3" font-family='"Liberation Serif", serif' font-size="9.8" font-weight="bold" text-anchor="middle" fill="#000">1.5</text>
<path d="M41.4 398.77 L42.91 398.76 L44.4 398.75 L45.89 398.75 L47.38 398.74 L48.85 398.73 L50.32 398.73 L51.78 398.72 L53.24 398.71 L54.68 398.7 L56.12 398.7 L57.55 398.69 L58.98 398.68 L60.39 398.67 L61.8 398.67 L63.21 398.66 L64.6 398.65 L65.99 398.64 L67.37 398.64 L68.74 398.63 L70.11 398.62 L71.47 398.61 L72.82 398.6 L74.16 398.6 L75.5 398.59 L76.83 398.58 L78.15 398.57 L79.47 398.56 L80.78 398.56 L82.08 398.55 L83.38 398.54 L84.66 398.53 L85.95 398.52 L87.22 398.51 L88.49 398.5 L89.75 398.49 L91 398.49 L92.25 398.48 L93.49 398.47 L94.72 398.46 L95.95 398.45 L97.17 398.44 L98.38 398.43 L99.58 398.42 L100.78 398.41 L101.98 398.4 L103.16 398.39 L104.34 398.38 L105.51 398.37 L106.68 398.36 L107.84 398.35 L108.99 398.34 L110.14 398.33 L111.27 398.32 L112.41 398.31 L113.53 398.3 L114.65 398.29 L115.77 398.28 L116.87 398.27 L117.97 398.26 L119.07 398.25 L120.16 398.24 L121.24 398.23 L122.31 398.22 L123.38 398.21 L124.44 398.19 L125.5 398.18 L126.55 398.17 L127.59 398.16 L128.63 398.15 L129.66 398.14 L130.68 398.13 L131.7 398.11 L132.71 398.1 L133.72 398.09 L134.72 398.08 L135.71 398.06 L136.7 398.05 L137.68 398.04 L138.65 398.03 L139.62 398.01 L140.59 398 L141.54 397.99 L142.49 397.98 L143.44 397.96 L144.38 397.95 L145.31 397.94 L146.24 397.92 L147.16 397.91 L148.08 397.9 L148.99 397.88 L149.89 397.87 L150.79 397.85 L151.68 397.84 L152.57 397.82 L153.45 397.81 L154.32 397.8 L155.19 397.78 L156.05 397.77 L156.91 397.75 L157.76 397.74 L158.61 397.72 L159.45 397.71 L160.29 397.69 L161.11 397.67 L161.94 397.66 L162.76 397.64 L163.57 397.63 L164.38 397.61 L165.18 397.59 L165.97 397.58 L166.77 397.56 L167.55 397.54 L168.33 397.53 L169.11 397.51 L169.87 397.49 L170.64 397.48 L171.4 397.46 L172.15 397.44 L172.9 397.42 L173.64 397.4 L174.38 397.39 L175.11 397.37 L175.83 397.35 L176.56 397.33 L177.27 397.31 L177.98 397.29 L178.69 397.27 L179.39 397.25 L180.08 397.23 L180.77 397.21 L181.46 397.19 L182.14 397.17 L182.82 397.15 L183.49 397.13 L184.15 397.11 L184.81 397.09 L185.47 397.07 L186.12 397.05 L186.76 397.03 L187.4 397.01 L188.04 396.98 L188.67 396.96 L189.29 396.94 L189.91 396.92 L190.53 396.89 L191.14 396.87 L191.75 396.85 L192.35 396.82 L192.95 396.8 L193.54 396.77 L194.12 396.75 L194.71 396.72 L195.29 396.7 L195.86 396.67 L196.43 396.65 L196.99 396.62 L197.55 396.6 L198.11 396.57 L198.66 396.54 L199.2 396.52 L199.74 396.49 L200.28 396.46 L200.81 396.44 L201.34 396.41 L201.86 396.38 L202.38 396.35 L202.9 396.32 L203.41 396.29 L203.91 396.26 L204.41 396.23 L204.91 396.2 L205.4 396.17 L205.89 396.14 L206.37 396.11 L206.85 396.08 L207.33 396.05 L207.8 396.01 L208.27 395.98 L208.73 395.95 L209.19 395.91 L209.64 395.88 L210.09 395.85 L210.54 395.81 L210.98 395.78 L211.42 395.74 L211.86 395.7 L212.29 395.67 L212.71 395.63 L213.13 395.59 L213.55 395.56 L213.97 395.52 L214.38 395.48 L214.78 395.44 L215.18 395.4 L215.58 395.36 L215.98 395.32 L216.37 395.28 L216.76 395.24 L217.14 395.2 L217.52 395.15 L217.89 395.11 L218.26 395.07 L218.63 395.02 L219 394.98 L219.36 394.93 L219.71 394.89 L220.07 394.84 L220.42 394.79 L220.76 394.74 L221.11 394.7 L221.44 394.65 L221.78 394.6 L222.11 394.55 L222.44 394.49 L222.76 394.44 L223.09 394.39 L223.4 394.34 L223.72 394.28 L224.03 394.23 L224.34 394.17 L224.64 394.12 L224.94 394.06 L225.24 394 L225.53 393.94 L225.82 393.88 L226.11 393.82 L226.39 393.76 L226.67 393.7 L226.95 393.64 L227.23 393.57 L227.5 393.51 L227.76 393.44 L228.03 393.37 L228.29 393.3 L228.55 393.24 L228.8 393.17 L229.06 393.09 L229.31 393.02 L229.55 392.95 L229.8 392.87 L230.04 392.8 L230.27 392.72 L230.51 392.64 L230.74 392.56 L230.97 392.48 L231.19 392.4 L231.41 392.32 L231.63 392.23 L231.85 392.15 L232.06 392.06 L232.27 391.97 L232.48 391.88 L232.69 391.79 L232.89 391.69 L233.09 391.6 L233.29 391.5 L233.48 391.4 L233.67 391.3 L233.86 391.2 L234.05 391.09 L234.23 390.99 L234.41 390.88 L234.59 390.77 L234.77 390.66 L234.94 390.55 L235.11 390.43 L235.28 390.31 L235.44 390.19 L235.61 390.07 L235.77 389.94 L235.93 389.82 L236.08 389.69 L236.24 389.55 L236.39 389.42 L236.53 389.28 L236.68 389.14 L236.82 389 L236.97 388.85 L237.11 388.7 L237.24 388.55 L237.38 388.39 L237.51 388.23 L237.64 388.07 L237.77 387.91 L237.89 387.74 L238.02 387.56 L238.14 387.39 L238.26 387.21 L238.38 387.02 L238.49 386.83 L238.6 386.64 L238.72 386.44 L238.82 386.24 L238.93 386.03 L239.04 385.82 L239.14 385.6 L239.24 385.38 L239.34 385.15 L239.44 384.92 L239.53 384.68 L239.63 384.44 L239.72 384.19 L239.81 383.93 L239.89 383.67 L239.98 383.39 L240.07 383.12 L240.15 382.83 L240.23 382.54 L240.31 382.24 L240.38 381.93 L240.46 381.61 L240.53 381.29 L240.61 380.95 L240.68 380.61 L240.75 380.25 L240.81 379.89 L240.88 379.51 L240.94 379.13 L241.01 378.73 L241.07 378.32 L241.13 377.9 L241.18 377.46 L241.24 377.01 L241.3 376.55 L241.35 376.07 L241.4 375.58 L241.45 375.07 L241.5 374.54 L241.55 374 L241.6 373.43 L241.64 372.85 L241.69 372.25 L241.73 371.62 L241.77 370.98 L241.81 370.31 L241.85 369.61 L241.89 368.89 L241.93 368.15 L241.96 367.37 L242 366.57 L242.03 365.73 L242.06 364.86 L242.09 363.95 L242.12 363.01 L242.15 362.03 L242.18 361.01 L242.21 359.95 L242.23 358.84 L242.26 357.69 L242.28 356.48 L242.31 355.22 L242.33 353.91 L242.35 352.54 L242.37 351.1 L242.39 349.6 L242.41 348.03 L242.43 346.38 L242.44 344.66 L242.46 342.85 L242.48 340.96 L242.49 338.98 L242.5 336.91 L242.52 334.74 L242.53 332.46 L242.54 330.07 L242.55 327.57 L242.56 324.95 L242.57 322.22 L242.58 319.36 L242.59 316.37 L242.6 313.26 L242.61 310.03 L242.62 306.67 L242.62 303.19 L242.63 299.6 L242.63 295.91 L242.64 292.14 L242.64 288.29 L242.65 284.4 L242.65 280.49 L242.66 276.58 L242.66 272.73 L242.66 268.95 L242.66 265.31 L242.67 261.82 L242.67 258.54 L242.67 255.5 L242.67 252.73 L242.67 250.26 L242.67 248.1 L242.67 246.26 L242.68 244.74 L242.68 243.53 L242.68 242.6 L242.68 241.92 L242.68 241.46 L242.68 241.18 L242.68 241.03 L242.68 240.98 L242.68 240.97 L242.71 401 L257.5 401" fill="none" stroke="#00b400" stroke-width="1.75" stroke-linejoin="round"/>
<path d="M41.4 399.08 L42.9 399.07 L44.38 399.07 L45.86 399.06 L47.34 399.06 L48.8 399.05 L50.26 399.04 L51.71 399.04 L53.15 399.03 L54.59 399.02 L56.02 399.02 L57.44 399.01 L58.85 399.01 L60.26 399 L61.66 398.99 L63.05 398.99 L64.44 398.98 L65.81 398.97 L67.19 398.97 L68.55 398.96 L69.91 398.95 L71.25 398.95 L72.6 398.94 L73.93 398.93 L75.26 398.93 L76.58 398.92 L77.89 398.91 L79.2 398.9 L80.5 398.9 L81.79 398.89 L83.08 398.88 L84.36 398.87 L85.63 398.87 L86.9 398.86 L88.16 398.85 L89.41 398.84 L90.65 398.84 L91.89 398.83 L93.12 398.82 L94.35 398.81 L95.56 398.81 L96.77 398.8 L97.98 398.79 L99.18 398.78 L100.37 398.77 L101.55 398.76 L102.73 398.76 L103.9 398.75 L105.06 398.74 L106.22 398.73 L107.37 398.72 L108.51 398.71 L109.65 398.71 L110.78 398.7 L111.91 398.69 L113.03 398.68 L114.14 398.67 L115.24 398.66 L116.34 398.65 L117.44 398.64 L118.52 398.63 L119.6 398.62 L120.68 398.61 L121.74 398.61 L122.8 398.6 L123.86 398.59 L124.91 398.58 L125.95 398.57 L126.98 398.56 L128.01 398.55 L129.04 398.54 L130.05 398.53 L131.07 398.52 L132.07 398.51 L133.07 398.5 L134.06 398.48 L135.05 398.47 L136.03 398.46 L137 398.45 L137.97 398.44 L138.93 398.43 L139.89 398.42 L140.84 398.41 L141.78 398.4 L142.72 398.39 L143.66 398.37 L144.58 398.36 L145.5 398.35 L146.42 398.34 L147.33 398.33 L148.23 398.32 L149.13 398.3 L150.02 398.29 L150.9 398.28 L151.79 398.27 L152.66 398.26 L153.53 398.24 L154.39 398.23 L155.25 398.22 L156.1 398.2 L156.95 398.19 L157.79 398.18 L158.62 398.17 L159.45 398.15 L160.27 398.14 L161.09 398.12 L161.9 398.11 L162.71 398.1 L163.51 398.08 L164.31 398.07 L165.1 398.06 L165.88 398.04 L166.66 398.03 L167.44 398.01 L168.21 398 L168.97 397.98 L169.73 397.97 L170.48 397.95 L171.23 397.94 L171.97 397.92 L172.71 397.91 L173.44 397.89 L174.17 397.87 L174.89 397.86 L175.61 397.84 L176.32 397.83 L177.02 397.81 L177.72 397.79 L178.42 397.78 L179.11 397.76 L179.8 397.74 L180.48 397.73 L181.15 397.71 L181.82 397.69 L182.49 397.67 L183.15 397.65 L183.8 397.64 L184.45 397.62 L185.1 397.6 L185.74 397.58 L186.38 397.56 L187.01 397.54 L187.63 397.52 L188.25 397.5 L188.87 397.48 L189.48 397.47 L190.09 397.45 L190.69 397.43 L191.29 397.4 L191.88 397.38 L192.47 397.36 L193.05 397.34 L193.63 397.32 L194.2 397.3 L194.77 397.28 L195.34 397.26 L195.9 397.23 L196.45 397.21 L197 397.19 L197.55 397.17 L198.09 397.14 L198.63 397.12 L199.16 397.1 L199.69 397.07 L200.22 397.05 L200.74 397.02 L201.25 397 L201.76 396.97 L202.27 396.95 L202.77 396.92 L203.27 396.9 L203.76 396.87 L204.25 396.84 L204.73 396.82 L205.22 396.79 L205.69 396.76 L206.16 396.74 L206.63 396.71 L207.1 396.68 L207.56 396.65 L208.01 396.62 L208.46 396.59 L208.91 396.56 L209.35 396.53 L209.79 396.5 L210.23 396.47 L210.66 396.44 L211.09 396.41 L211.51 396.38 L211.93 396.35 L212.34 396.32 L212.75 396.28 L213.16 396.25 L213.56 396.22 L213.96 396.18 L214.36 396.15 L214.75 396.11 L215.14 396.08 L215.52 396.04 L215.9 396.01 L216.28 395.97 L216.65 395.93 L217.02 395.89 L217.39 395.86 L217.75 395.82 L218.11 395.78 L218.46 395.74 L218.81 395.7 L219.16 395.66 L219.5 395.62 L219.84 395.57 L220.18 395.53 L220.51 395.49 L220.84 395.45 L221.17 395.4 L221.49 395.36 L221.81 395.31 L222.12 395.27 L222.44 395.22 L222.75 395.17 L223.05 395.12 L223.35 395.08 L223.65 395.03 L223.95 394.98 L224.24 394.93 L224.53 394.88 L224.81 394.82 L225.09 394.77 L225.37 394.72 L225.65 394.66 L225.92 394.61 L226.19 394.55 L226.46 394.49 L226.72 394.44 L226.98 394.38 L227.24 394.32 L227.49 394.26 L227.74 394.2 L227.99 394.13 L228.23 394.07 L228.47 394.01 L228.71 393.94 L228.95 393.88 L229.18 393.81 L229.41 393.74 L229.63 393.67 L229.86 393.6 L230.08 393.53 L230.3 393.46 L230.51 393.38 L230.72 393.31 L230.93 393.23 L231.14 393.15 L231.34 393.07 L231.54 392.99 L231.74 392.91 L231.94 392.83 L232.13 392.74 L232.32 392.65 L232.51 392.57 L232.69 392.48 L232.88 392.39 L233.06 392.29 L233.23 392.2 L233.41 392.1 L233.58 392 L233.75 391.91 L233.92 391.8 L234.08 391.7 L234.24 391.59 L234.4 391.49 L234.56 391.38 L234.71 391.27 L234.87 391.15 L235.02 391.04 L235.16 390.92 L235.31 390.8 L235.45 390.67 L235.59 390.55 L235.73 390.42 L235.87 390.29 L236 390.15 L236.13 390.02 L236.26 389.88 L236.39 389.74 L236.51 389.59 L236.64 389.44 L236.76 389.29 L236.88 389.13 L236.99 388.97 L237.11 388.81 L237.22 388.65 L237.33 388.48 L237.44 388.3 L237.54 388.13 L237.65 387.94 L237.75 387.76 L237.85 387.57 L237.95 387.37 L238.05 387.17 L238.14 386.97 L238.23 386.76 L238.32 386.54 L238.41 386.32 L238.5 386.09 L238.59 385.86 L238.67 385.62 L238.75 385.38 L238.83 385.13 L238.91 384.87 L238.99 384.61 L239.06 384.33 L239.14 384.05 L239.21 383.77 L239.28 383.47 L239.35 383.17 L239.41 382.85 L239.48 382.53 L239.54 382.2 L239.6 381.86 L239.66 381.51 L239.72 381.15 L239.78 380.77 L239.84 380.39 L239.89 379.99 L239.95 379.58 L240 379.16 L240.05 378.72 L240.1 378.27 L240.15 377.81 L240.19 377.33 L240.24 376.83 L240.28 376.31 L240.32 375.78 L240.37 375.23 L240.41 374.66 L240.44 374.06 L240.48 373.45 L240.52 372.81 L240.55 372.15 L240.59 371.47 L240.62 370.76 L240.65 370.02 L240.69 369.25 L240.71 368.45 L240.74 367.62 L240.77 366.75 L240.8 365.85 L240.82 364.91 L240.85 363.93 L240.87 362.91 L240.9 361.85 L240.92 360.74 L240.94 359.58 L240.96 358.37 L240.98 357.11 L241 355.79 L241.02 354.41 L241.03 352.97 L241.05 351.46 L241.06 349.88 L241.08 348.23 L241.09 346.51 L241.11 344.71 L241.12 342.83 L241.13 340.86 L241.14 338.81 L241.15 336.66 L241.16 334.43 L241.17 332.11 L241.18 329.69 L241.19 327.18 L241.19 324.59 L241.2 321.91 L241.21 319.15 L241.21 316.32 L241.22 313.43 L241.23 310.49 L241.23 307.52 L241.23 304.53 L241.24 301.55 L241.24 298.6 L241.25 295.71 L241.25 292.91 L241.25 290.22 L241.25 287.66 L241.25 285.28 L241.26 283.09 L241.26 281.11 L241.26 279.35 L241.26 277.82 L241.26 276.53 L241.26 275.46 L241.26 274.61 L241.26 273.96 L241.26 273.49 L241.26 273.17 L241.26 272.98 L241.26 272.88 L241.26 272.84 L241.26 272.84 L241.3 401 L257.5 401" fill="none" stroke="#d8000a" stroke-width="1.75" stroke-linejoin="round"/>
<rect x="51.8" y="245.2" width="71.1" height="24.2" fill="#fff" stroke="#a0a0a0" stroke-width="1"/>
<path d="M53.8 251.7 H74" stroke="#00b400" stroke-width="1.5" stroke-linecap="round"/>
<path d="M53.8 262.5 H74" stroke="#d8000a" stroke-width="1.5" stroke-linecap="round"/>
<text x="76.8" y="255.2" font-family='"Liberation Serif", serif' font-size="9.2" font-weight="bold" text-anchor="start" fill="#000" textLength="43.7" lengthAdjust="spacingAndGlyphs" stroke="#000" stroke-width="0.2">&#955; = 546 nm</text>
<text x="76.8" y="265.3" font-family='"Liberation Serif", serif' font-size="9.2" font-weight="bold" text-anchor="start" fill="#000" textLength="43.7" lengthAdjust="spacingAndGlyphs" stroke="#000" stroke-width="0.2">&#955; = 633 nm</text>
<g transform="translate(7.9 334.9) rotate(-90)">
<text x="0" y="0" font-family='"Liberation Serif", serif' font-size="11" font-weight="bold" text-anchor="start" fill="#000" textLength="34.7" lengthAdjust="spacingAndGlyphs">D<tspan dy="4.6" font-size="8.8">p</tspan><tspan dy="-4.6">(nm)</tspan></text>
</g>
<text x="130.2" y="427.3" font-family='"Liberation Serif", serif' font-size="10.5" font-weight="bold" text-anchor="start" fill="#000" textLength="37.6" lengthAdjust="spacingAndGlyphs">n<tspan dy="5" font-size="7.5">2</tspan><tspan dy="-5">(RIU)</tspan></text>
<text x="137.5" y="448.3" font-family='"Liberation Sans", sans-serif' font-size="11.5" font-weight="normal" text-anchor="start" fill="#000" textLength="12" lengthAdjust="spacingAndGlyphs" stroke="#000" stroke-width="0.2">(c)</text>
<rect x="219" y="227.8" width="32.4" height="170.5" fill="none" stroke="#1f2d50" stroke-width="1.4" stroke-dasharray="3.6 2.9"/>
<path d="M294.5 238 V400.8 H519.8" fill="none" stroke="#a2a2a2" stroke-width="1.2"/>
<path d="M294.5 400.8 v-2.2" stroke="#a2a2a2" stroke-width="1"/>
<path d="M350.82 400.8 v-2.2" stroke="#a2a2a2" stroke-width="1"/>
<path d="M407.15 400.8 v-2.2" stroke="#a2a2a2" stroke-width="1"/>
<path d="M463.47 400.8 v-2.2" stroke="#a2a2a2" stroke-width="1"/>
<path d="M519.8 400.8 v-2.2" stroke="#a2a2a2" stroke-width="1"/>
<path d="M294.5 392 h2.2" stroke="#a2a2a2" stroke-width="1"/>
<path d="M294.5 368.67 h2.2" stroke="#a2a2a2" stroke-width="1"/>
<path d="M294.5 345.33 h2.2" stroke="#a2a2a2" stroke-width="1"/>
<path d="M294.5 322 h2.2" stroke="#a2a2a2" stroke-width="1"/>
<path d="M294.5 298.66 h2.2" stroke="#a2a2a2" stroke-width="1"/>
<path d="M294.5 275.32 h2.2" stroke="#a2a2a2" stroke-width="1"/>
<path d="M294.5 251.99 h2.2" stroke="#a2a2a2" stroke-width="1"/>
<text x="290" y="395.9" font-family='"Liberation Serif", serif' font-size="9.8" font-weight="bold" text-anchor="end" fill="#000">0</text>
<text x="290" y="372.56" font-family='"Liberation Serif", serif' font-size="9.8" font-weight="bold" text-anchor="end" fill="#000">500</text>
<text x="290" y="349.23" font-family='"Liberation Serif", serif' font-size="9.8" font-weight="bold" text-anchor="end" fill="#000">1000</text>
<text x="290" y="325.89" font-family='"Liberation Serif", serif' font-size="9.8" font-weight="bold" text-anchor="end" fill="#000">1500</text>
<text x="290" y="302.56" font-family='"Liberation Serif", serif' font-size="9.8" font-weight="bold" text-anchor="end" fill="#000">2000</text>
<text x="290" y="279.22" font-family='"Liberation Serif", serif' font-size="9.8" font-weight="bold" text-anchor="end" fill="#000">2500</text>
<text x="290" y="255.89" font-family='"Liberation Serif", serif' font-size="9.8" font-weight="bold" text-anchor="end" fill="#000">3000</text>
<text x="294.5" y="413.6" font-family='"Liberation Serif", serif' font-size="9.8" font-weight="bold" text-anchor="middle" fill="#000">1.45</text>
<text x="350.82" y="413.6" font-family='"Liberation Serif", serif' font-size="9.8" font-weight="bold" text-anchor="middle" fill="#000">1.455</text>
<text x="407.15" y="413.6" font-family='"Liberation Serif", serif' font-size="9.8" font-weight="bold" text-anchor="middle" fill="#000">1.46</text>
<text x="463.47" y="413.6" font-family='"Liberation Serif", serif' font-size="9.8" font-weight="bold" text-anchor="middle" fill="#000">1.465</text>
<text x="519.8" y="413.6" font-family='"Liberation Serif", serif' font-size="9.8" font-weight="bold" text-anchor="middle" fill="#000">1.47</text>
<path d="M294.5 381.04 L295.82 381 L297.14 380.95 L298.45 380.91 L299.75 380.87 L301.05 380.83 L302.34 380.79 L303.62 380.75 L304.9 380.7 L306.17 380.66 L307.44 380.62 L308.69 380.57 L309.95 380.53 L311.19 380.49 L312.43 380.44 L313.66 380.4 L314.89 380.35 L316.11 380.31 L317.32 380.26 L318.53 380.22 L319.73 380.17 L320.92 380.12 L322.11 380.08 L323.29 380.03 L324.47 379.98 L325.63 379.93 L326.8 379.89 L327.95 379.84 L329.1 379.79 L330.25 379.74 L331.39 379.69 L332.52 379.64 L333.64 379.59 L334.76 379.54 L335.88 379.49 L336.99 379.44 L338.09 379.39 L339.18 379.34 L340.27 379.29 L341.36 379.23 L342.43 379.18 L343.5 379.13 L344.57 379.07 L345.63 379.02 L346.68 378.97 L347.73 378.91 L348.77 378.86 L349.81 378.8 L350.84 378.75 L351.86 378.69 L352.88 378.63 L353.9 378.58 L354.9 378.52 L355.9 378.46 L356.9 378.4 L357.89 378.35 L358.87 378.29 L359.85 378.23 L360.82 378.17 L361.79 378.11 L362.75 378.05 L363.71 377.99 L364.66 377.92 L365.6 377.86 L366.54 377.8 L367.47 377.74 L368.4 377.67 L369.32 377.61 L370.24 377.54 L371.15 377.48 L372.06 377.41 L372.96 377.35 L373.85 377.28 L374.74 377.22 L375.62 377.15 L376.5 377.08 L377.38 377.01 L378.24 376.94 L379.11 376.87 L379.96 376.8 L380.81 376.73 L381.66 376.66 L382.5 376.59 L383.34 376.52 L384.17 376.45 L384.99 376.37 L385.81 376.3 L386.63 376.23 L387.44 376.15 L388.24 376.08 L389.04 376 L389.84 375.92 L390.63 375.85 L391.41 375.77 L392.19 375.69 L392.96 375.61 L393.73 375.53 L394.49 375.45 L395.25 375.37 L396.01 375.29 L396.76 375.2 L397.5 375.12 L398.24 375.04 L398.97 374.95 L399.7 374.87 L400.42 374.78 L401.14 374.69 L401.86 374.61 L402.57 374.52 L403.27 374.43 L403.97 374.34 L404.67 374.25 L405.36 374.16 L406.04 374.07 L406.72 373.97 L407.4 373.88 L408.07 373.79 L408.74 373.69 L409.4 373.6 L410.05 373.5 L410.71 373.4 L411.35 373.3 L412 373.2 L412.64 373.1 L413.27 373 L413.9 372.9 L414.52 372.8 L415.14 372.69 L415.76 372.59 L416.37 372.48 L416.98 372.38 L417.58 372.27 L418.18 372.16 L418.77 372.05 L419.36 371.94 L419.94 371.83 L420.52 371.72 L421.1 371.6 L421.67 371.49 L422.24 371.37 L422.8 371.26 L423.36 371.14 L423.91 371.02 L424.46 370.9 L425.01 370.78 L425.55 370.66 L426.09 370.53 L426.62 370.41 L427.15 370.28 L427.67 370.15 L428.19 370.03 L428.71 369.9 L429.22 369.76 L429.73 369.63 L430.23 369.5 L430.73 369.36 L431.23 369.23 L431.72 369.09 L432.21 368.95 L432.69 368.81 L433.17 368.67 L433.65 368.53 L434.12 368.38 L434.58 368.24 L435.05 368.09 L435.51 367.94 L435.96 367.79 L436.42 367.64 L436.86 367.48 L437.31 367.33 L437.75 367.17 L438.19 367.01 L438.62 366.85 L439.05 366.69 L439.47 366.53 L439.89 366.36 L440.31 366.2 L440.73 366.03 L441.14 365.86 L441.54 365.68 L441.95 365.51 L442.35 365.33 L442.74 365.16 L443.13 364.98 L443.52 364.79 L443.91 364.61 L444.29 364.42 L444.67 364.24 L445.04 364.05 L445.41 363.85 L445.78 363.66 L446.14 363.46 L446.5 363.26 L446.86 363.06 L447.22 362.86 L447.57 362.65 L447.91 362.45 L448.26 362.24 L448.6 362.02 L448.93 361.81 L449.27 361.59 L449.6 361.37 L449.92 361.15 L450.25 360.92 L450.57 360.69 L450.88 360.46 L451.2 360.23 L451.51 359.99 L451.81 359.75 L452.12 359.51 L452.42 359.26 L452.72 359.02 L453.01 358.76 L453.3 358.51 L453.59 358.25 L453.88 357.99 L454.16 357.73 L454.44 357.46 L454.71 357.19 L454.99 356.92 L455.26 356.64 L455.52 356.36 L455.79 356.07 L456.05 355.79 L456.31 355.49 L456.56 355.2 L456.82 354.9 L457.07 354.6 L457.31 354.29 L457.56 353.98 L457.8 353.66 L458.04 353.34 L458.27 353.02 L458.5 352.69 L458.73 352.36 L458.96 352.02 L459.18 351.68 L459.41 351.33 L459.63 350.98 L459.84 350.63 L460.05 350.27 L460.27 349.9 L460.47 349.53 L460.68 349.16 L460.88 348.78 L461.08 348.39 L461.28 348 L461.48 347.6 L461.67 347.2 L461.86 346.79 L462.05 346.38 L462.23 345.96 L462.42 345.53 L462.6 345.1 L462.77 344.67 L462.95 344.22 L463.12 343.77 L463.29 343.31 L463.46 342.85 L463.63 342.38 L463.79 341.9 L463.95 341.42 L464.11 340.93 L464.27 340.43 L464.42 339.93 L464.58 339.41 L464.73 338.89 L464.87 338.36 L465.02 337.83 L465.16 337.28 L465.3 336.73 L465.44 336.17 L465.58 335.6 L465.71 335.02 L465.85 334.44 L465.98 333.84 L466.11 333.24 L466.23 332.63 L466.36 332 L466.48 331.37 L466.6 330.73 L466.72 330.08 L466.83 329.42 L466.95 328.75 L467.06 328.07 L467.17 327.38 L467.28 326.68 L467.39 325.97 L467.49 325.24 L467.6 324.51 L467.7 323.77 L467.8 323.01 L467.89 322.25 L467.99 321.47 L468.08 320.68 L468.18 319.88 L468.27 319.07 L468.35 318.24 L468.44 317.4 L468.53 316.56 L468.61 315.7 L468.69 314.82 L468.77 313.94 L468.85 313.04 L468.93 312.13 L469.01 311.21 L469.08 310.28 L469.15 309.33 L469.22 308.37 L469.29 307.4 L469.36 306.41 L469.43 305.42 L469.49 304.41 L469.55 303.39 L469.62 302.35 L469.68 301.31 L469.74 300.25 L469.79 299.18 L469.85 298.1 L469.91 297.01 L469.96 295.91 L470.01 294.8 L470.06 293.67 L470.11 292.54 L470.16 291.4 L470.21 290.25 L470.25 289.09 L470.3 287.92 L470.34 286.74 L470.39 285.56 L470.43 284.37 L470.47 283.18 L470.51 281.98 L470.54 280.78 L470.58 279.57 L470.62 278.36 L470.65 277.15 L470.68 275.94 L470.72 274.73 L470.75 273.53 L470.78 272.32 L470.81 271.12 L470.84 269.92 L470.86 268.73 L470.89 267.55 L470.92 266.37 L470.94 265.21 L470.96 264.06 L470.99 262.91 L471.01 261.79 L471.03 260.67 L471.05 259.58 L471.07 258.5 L471.09 257.44 L471.11 256.4 L471.12 255.38 L471.14 254.39 L471.16 253.41 L471.17 252.47 L471.18 251.55 L471.2 250.65 L471.21 249.78 L471.22 248.94 L471.23 248.13 L471.25 247.35 L471.26 246.6 L471.27 245.89 L471.28 245.2 L471.28 244.54 L471.29 243.92 L471.3 243.32 L471.31 242.76 L471.31 242.23 L471.32 241.74 L471.33 241.27 L471.33 240.83 L471.34 240.43 L471.34 240.05 L471.35 239.7 L471.35 239.38 L471.35 239.09 L471.36 238.82 L471.36 238.58 L471.36 238.37 L471.36 238.17 L471.37 238 L471.37 237.85 L471.37 237.72 L471.37 237.61 L471.37 237.52 L471.37 237.44 L471.37 237.37 L471.37 237.32 L471.37 237.28 L471.37 237.25 L471.37 237.23 L471.37 237.21 L471.37 237.2 L471.37 237.2 L471.37 237.2 L471.37 237.2 L472.26 392 L519.8 392" fill="none" stroke="#00b400" stroke-width="1.7" stroke-linejoin="round"/>
<path d="M294.5 381.45 L295.55 381.41 L296.59 381.37 L297.63 381.33 L298.66 381.29 L299.69 381.25 L300.71 381.21 L301.72 381.17 L302.74 381.13 L303.74 381.09 L304.74 381.05 L305.74 381 L306.73 380.96 L307.72 380.92 L308.7 380.88 L309.67 380.83 L310.64 380.79 L311.61 380.75 L312.57 380.7 L313.52 380.66 L314.47 380.62 L315.42 380.57 L316.36 380.53 L317.3 380.48 L318.23 380.44 L319.15 380.39 L320.07 380.34 L320.99 380.3 L321.9 380.25 L322.81 380.2 L323.71 380.16 L324.6 380.11 L325.5 380.06 L326.38 380.01 L327.26 379.96 L328.14 379.92 L329.01 379.87 L329.88 379.82 L330.74 379.77 L331.6 379.72 L332.45 379.67 L333.3 379.62 L334.15 379.56 L334.99 379.51 L335.82 379.46 L336.65 379.41 L337.47 379.36 L338.29 379.3 L339.11 379.25 L339.92 379.19 L340.73 379.14 L341.53 379.09 L342.33 379.03 L343.12 378.98 L343.91 378.92 L344.69 378.86 L345.47 378.81 L346.25 378.75 L347.02 378.69 L347.78 378.64 L348.54 378.58 L349.3 378.52 L350.05 378.46 L350.8 378.4 L351.54 378.34 L352.28 378.28 L353.02 378.22 L353.75 378.16 L354.47 378.1 L355.19 378.03 L355.91 377.97 L356.62 377.91 L357.33 377.84 L358.04 377.78 L358.74 377.72 L359.43 377.65 L360.12 377.59 L360.81 377.52 L361.49 377.45 L362.17 377.39 L362.85 377.32 L363.52 377.25 L364.18 377.18 L364.84 377.11 L365.5 377.04 L366.15 376.97 L366.8 376.9 L367.45 376.83 L368.09 376.76 L368.73 376.69 L369.36 376.61 L369.99 376.54 L370.61 376.47 L371.23 376.39 L371.85 376.32 L372.46 376.24 L373.07 376.17 L373.68 376.09 L374.28 376.01 L374.87 375.93 L375.47 375.85 L376.06 375.77 L376.64 375.69 L377.22 375.61 L377.8 375.53 L378.37 375.45 L378.94 375.37 L379.51 375.28 L380.07 375.2 L380.63 375.11 L381.18 375.03 L381.73 374.94 L382.28 374.85 L382.82 374.77 L383.36 374.68 L383.89 374.59 L384.43 374.5 L384.95 374.41 L385.48 374.32 L386 374.22 L386.51 374.13 L387.03 374.04 L387.54 373.94 L388.04 373.84 L388.54 373.75 L389.04 373.65 L389.54 373.55 L390.03 373.45 L390.52 373.35 L391 373.25 L391.48 373.15 L391.96 373.05 L392.43 372.94 L392.9 372.84 L393.37 372.73 L393.83 372.63 L394.29 372.52 L394.74 372.41 L395.2 372.3 L395.64 372.19 L396.09 372.08 L396.53 371.97 L396.97 371.86 L397.41 371.74 L397.84 371.62 L398.27 371.51 L398.69 371.39 L399.11 371.27 L399.53 371.15 L399.95 371.03 L400.36 370.91 L400.77 370.78 L401.17 370.66 L401.58 370.53 L401.97 370.41 L402.37 370.28 L402.76 370.15 L403.15 370.02 L403.54 369.89 L403.92 369.75 L404.3 369.62 L404.68 369.48 L405.05 369.35 L405.42 369.21 L405.79 369.07 L406.15 368.92 L406.51 368.78 L406.87 368.64 L407.23 368.49 L407.58 368.34 L407.93 368.2 L408.27 368.05 L408.62 367.89 L408.95 367.74 L409.29 367.58 L409.63 367.43 L409.96 367.27 L410.28 367.11 L410.61 366.95 L410.93 366.79 L411.25 366.62 L411.57 366.45 L411.88 366.28 L412.19 366.11 L412.5 365.94 L412.8 365.77 L413.11 365.59 L413.4 365.41 L413.7 365.23 L413.99 365.05 L414.29 364.87 L414.57 364.68 L414.86 364.5 L415.14 364.31 L415.42 364.11 L415.7 363.92 L415.97 363.72 L416.25 363.53 L416.51 363.32 L416.78 363.12 L417.05 362.92 L417.31 362.71 L417.57 362.5 L417.82 362.29 L418.07 362.07 L418.33 361.85 L418.57 361.64 L418.82 361.41 L419.06 361.19 L419.3 360.96 L419.54 360.73 L419.78 360.5 L420.01 360.26 L420.24 360.02 L420.47 359.78 L420.7 359.54 L420.92 359.29 L421.14 359.04 L421.36 358.79 L421.58 358.53 L421.79 358.27 L422 358.01 L422.21 357.74 L422.42 357.48 L422.62 357.2 L422.82 356.93 L423.02 356.65 L423.22 356.37 L423.42 356.08 L423.61 355.79 L423.8 355.5 L423.99 355.2 L424.18 354.9 L424.36 354.6 L424.54 354.29 L424.72 353.98 L424.9 353.66 L425.07 353.34 L425.25 353.02 L425.42 352.69 L425.59 352.36 L425.76 352.02 L425.92 351.68 L426.08 351.33 L426.24 350.98 L426.4 350.63 L426.56 350.27 L426.71 349.9 L426.87 349.53 L427.02 349.16 L427.17 348.78 L427.31 348.4 L427.46 348.01 L427.6 347.61 L427.74 347.22 L427.88 346.81 L428.02 346.4 L428.15 345.99 L428.29 345.57 L428.42 345.14 L428.55 344.71 L428.67 344.27 L428.8 343.82 L428.92 343.37 L429.05 342.92 L429.17 342.46 L429.29 341.99 L429.4 341.51 L429.52 341.03 L429.63 340.54 L429.74 340.05 L429.85 339.55 L429.96 339.04 L430.07 338.53 L430.17 338.01 L430.28 337.48 L430.38 336.94 L430.48 336.4 L430.58 335.85 L430.68 335.3 L430.77 334.73 L430.86 334.16 L430.96 333.58 L431.05 333 L431.14 332.4 L431.22 331.8 L431.31 331.19 L431.39 330.57 L431.48 329.95 L431.56 329.31 L431.64 328.67 L431.72 328.02 L431.8 327.37 L431.87 326.7 L431.95 326.03 L432.02 325.35 L432.09 324.66 L432.16 323.96 L432.23 323.26 L432.3 322.54 L432.36 321.82 L432.43 321.09 L432.49 320.35 L432.55 319.61 L432.62 318.85 L432.68 318.09 L432.73 317.32 L432.79 316.55 L432.85 315.76 L432.9 314.97 L432.96 314.18 L433.01 313.37 L433.06 312.56 L433.11 311.74 L433.16 310.92 L433.21 310.09 L433.25 309.25 L433.3 308.41 L433.35 307.56 L433.39 306.71 L433.43 305.85 L433.47 304.99 L433.51 304.12 L433.55 303.25 L433.59 302.38 L433.63 301.51 L433.67 300.63 L433.7 299.76 L433.73 298.88 L433.77 298 L433.8 297.12 L433.83 296.24 L433.86 295.36 L433.89 294.49 L433.92 293.62 L433.95 292.75 L433.98 291.88 L434 291.02 L434.03 290.17 L434.06 289.32 L434.08 288.48 L434.1 287.64 L434.12 286.81 L434.15 286 L434.17 285.19 L434.19 284.39 L434.21 283.61 L434.23 282.83 L434.24 282.07 L434.26 281.33 L434.28 280.59 L434.29 279.87 L434.31 279.17 L434.32 278.48 L434.34 277.81 L434.35 277.16 L434.37 276.53 L434.38 275.91 L434.39 275.31 L434.4 274.73 L434.41 274.17 L434.42 273.63 L434.43 273.11 L434.44 272.62 L434.45 272.14 L434.46 271.68 L434.47 271.24 L434.47 270.82 L434.48 270.43 L434.49 270.05 L434.49 269.7 L434.5 269.36 L434.5 269.04 L434.51 268.75 L434.51 268.47 L434.52 268.21 L434.52 267.97 L434.53 267.75 L434.53 267.55 L434.53 267.36 L434.53 267.19 L434.54 267.03 L434.54 266.89 L434.54 266.77 L434.54 266.65 L434.54 266.55 L434.55 266.47 L434.55 266.39 L434.55 266.33 L434.55 266.27 L434.55 266.22 L434.55 266.19 L434.55 266.16 L434.55 266.13 L434.55 266.11 L434.55 266.1 L434.55 266.09 L434.55 266.09 L434.55 266.09 L434.55 266.08 L434.55 266.08 L435.54 392 L519.8 392" fill="none" stroke="#d8000a" stroke-width="1.7" stroke-linejoin="round"/>
<rect x="303.5" y="243.3" width="71.7" height="23.9" fill="#fff" stroke="#a0a0a0" stroke-width="1"/>
<path d="M306 249.7 H326.4" stroke="#00b400" stroke-width="1.5" stroke-linecap="round"/>
<path d="M306 260.5 H326.4" stroke="#d8000a" stroke-width="1.5" stroke-linecap="round"/>
<text x="328.8" y="253.4" font-family='"Liberation Serif", serif' font-size="9.2" font-weight="bold" text-anchor="start" fill="#000" textLength="44.1" lengthAdjust="spacingAndGlyphs" stroke="#000" stroke-width="0.2">&#955; = 546 nm</text>
<text x="328.8" y="263.4" font-family='"Liberation Serif", serif' font-size="9.2" font-weight="bold" text-anchor="start" fill="#000" textLength="44.1" lengthAdjust="spacingAndGlyphs" stroke="#000" stroke-width="0.2">&#955; = 633 nm</text>
<g transform="translate(260.5 336.8) rotate(-90)">
<text x="0" y="0" font-family='"Liberation Serif", serif' font-size="11" font-weight="bold" text-anchor="start" fill="#000" textLength="35.8" lengthAdjust="spacingAndGlyphs">D<tspan dy="4.6" font-size="8.8">p</tspan><tspan dy="-4.6">(nm)</tspan></text>
</g>
<text x="388.3" y="427.3" font-family='"Liberation Serif", serif' font-size="10.5" font-weight="bold" text-anchor="start" fill="#000" textLength="37.1" lengthAdjust="spacingAndGlyphs">n<tspan dy="5" font-size="7.5">2</tspan><tspan dy="-5">(RIU)</tspan></text>
<text x="406.75" y="448.1" font-family='"Liberation Sans", sans-serif' font-size="11.5" font-weight="normal" text-anchor="start" fill="#000" textLength="13.5" lengthAdjust="spacingAndGlyphs" stroke="#000" stroke-width="0.2">(d)</text>
<rect x="322.8" y="345.5" width="49.5" height="29.5" rx="1.5" fill="#f5f5fa" stroke="#cacad2" stroke-width="1"/>
<text x="368.8" y="357.9" font-family='"Liberation Serif", serif' font-size="10.5" font-weight="normal" text-anchor="end" fill="#333">X 1.457</text>
<text x="368.8" y="369.6" font-family='"Liberation Serif", serif' font-size="10.5" font-weight="normal" text-anchor="end" fill="#333">Y 340.131</text>
<rect x="408.6" y="374.9" width="50.7" height="28.7" rx="1.5" fill="#f5f5fa" stroke="#cacad2" stroke-width="1"/>
<text x="412.8" y="387.4" font-family='"Liberation Serif", serif' font-size="10.5" font-weight="normal" text-anchor="start" fill="#333">X 1.4601</text>
<text x="412.8" y="398.9" font-family='"Liberation Serif", serif' font-size="10.5" font-weight="normal" text-anchor="start" fill="#333">Y 390.904</text>
<circle cx="373.36" cy="376.13" r="1.25" fill="#111"/>
<circle cx="408.28" cy="373.76" r="1.25" fill="#111"/>
<text x="461.3" y="385" font-family='"Liberation Sans", sans-serif' font-size="9" font-weight="bold" text-anchor="start" fill="#000" textLength="63.5" lengthAdjust="spacingAndGlyphs" stroke="#000" stroke-width="0.25">No Penetration</text>
<g transform="translate(453.4 324.6) rotate(-68.5)">
<text x="0" y="3.4" font-family='"Liberation Sans", sans-serif' font-size="9.5" font-weight="bold" text-anchor="middle" fill="#000" textLength="73" lengthAdjust="spacingAndGlyphs" font-style="italic" stroke="#000" stroke-width="0.25">High Penetration</text>
</g>
<path d="M36.3 469.3 V632.1 H258.9" fill="none" stroke="#a2a2a2" stroke-width="1.2"/>
<path d="M36.3 632.1 v-2.2" stroke="#a2a2a2" stroke-width="1"/>
<path d="M80.82 632.1 v-2.2" stroke="#a2a2a2" stroke-width="1"/>
<path d="M125.34 632.1 v-2.2" stroke="#a2a2a2" stroke-width="1"/>
<path d="M169.86 632.1 v-2.2" stroke="#a2a2a2" stroke-width="1"/>
<path d="M214.38 632.1 v-2.2" stroke="#a2a2a2" stroke-width="1"/>
<path d="M258.9 632.1 v-2.2" stroke="#a2a2a2" stroke-width="1"/>
<path d="M36.3 632.1 h2.2" stroke="#a2a2a2" stroke-width="1"/>
<path d="M36.3 608.84 h2.2" stroke="#a2a2a2" stroke-width="1"/>
<path d="M36.3 585.59 h2.2" stroke="#a2a2a2" stroke-width="1"/>
<path d="M36.3 562.33 h2.2" stroke="#a2a2a2" stroke-width="1"/>
<path d="M36.3 539.07 h2.2" stroke="#a2a2a2" stroke-width="1"/>
<path d="M36.3 515.81 h2.2" stroke="#a2a2a2" stroke-width="1"/>
<path d="M36.3 492.56 h2.2" stroke="#a2a2a2" stroke-width="1"/>
<path d="M36.3 469.3 h2.2" stroke="#a2a2a2" stroke-width="1"/>
<text x="32.4" y="636.3" font-family='"Liberation Sans", sans-serif' font-size="11.2" font-weight="bold" text-anchor="end" fill="#000" textLength="5.23" lengthAdjust="spacingAndGlyphs">0</text>
<text x="32.4" y="613.04" font-family='"Liberation Sans", sans-serif' font-size="11.2" font-weight="bold" text-anchor="end" fill="#000" textLength="5.23" lengthAdjust="spacingAndGlyphs">1</text>
<text x="32.4" y="589.79" font-family='"Liberation Sans", sans-serif' font-size="11.2" font-weight="bold" text-anchor="end" fill="#000" textLength="5.23" lengthAdjust="spacingAndGlyphs">2</text>
<text x="32.4" y="566.53" font-family='"Liberation Sans", sans-serif' font-size="11.2" font-weight="bold" text-anchor="end" fill="#000" textLength="5.23" lengthAdjust="spacingAndGlyphs">3</text>
<text x="32.4" y="543.27" font-family='"Liberation Sans", sans-serif' font-size="11.2" font-weight="bold" text-anchor="end" fill="#000" textLength="5.23" lengthAdjust="spacingAndGlyphs">4</text>
<text x="32.4" y="520.01" font-family='"Liberation Sans", sans-serif' font-size="11.2" font-weight="bold" text-anchor="end" fill="#000" textLength="5.23" lengthAdjust="spacingAndGlyphs">5</text>
<text x="32.4" y="496.76" font-family='"Liberation Sans", sans-serif' font-size="11.2" font-weight="bold" text-anchor="end" fill="#000" textLength="5.23" lengthAdjust="spacingAndGlyphs">6</text>
<text x="32.4" y="473.5" font-family='"Liberation Sans", sans-serif' font-size="11.2" font-weight="bold" text-anchor="end" fill="#000" textLength="5.23" lengthAdjust="spacingAndGlyphs">7</text>
<text x="36.3" y="646.4" font-family='"Liberation Sans", sans-serif' font-size="11.2" font-weight="bold" text-anchor="middle" fill="#000" textLength="5.23" lengthAdjust="spacingAndGlyphs">1</text>
<text x="80.82" y="646.4" font-family='"Liberation Sans", sans-serif' font-size="11.2" font-weight="bold" text-anchor="middle" fill="#000" textLength="13.07" lengthAdjust="spacingAndGlyphs">1.1</text>
<text x="125.34" y="646.4" font-family='"Liberation Sans", sans-serif' font-size="11.2" font-weight="bold" text-anchor="middle" fill="#000" textLength="13.07" lengthAdjust="spacingAndGlyphs">1.2</text>
<text x="169.86" y="646.4" font-family='"Liberation Sans", sans-serif' font-size="11.2" font-weight="bold" text-anchor="middle" fill="#000" textLength="13.07" lengthAdjust="spacingAndGlyphs">1.3</text>
<text x="214.38" y="646.4" font-family='"Liberation Sans", sans-serif' font-size="11.2" font-weight="bold" text-anchor="middle" fill="#000" textLength="13.07" lengthAdjust="spacingAndGlyphs">1.4</text>
<text x="258.9" y="646.4" font-family='"Liberation Sans", sans-serif' font-size="11.2" font-weight="bold" text-anchor="middle" fill="#000" textLength="13.07" lengthAdjust="spacingAndGlyphs">1.5</text>
<path d="M36.3 472.75 L38.37 475.21 L40.42 477.63 L42.46 480.01 L44.48 482.36 L46.5 484.67 L48.49 486.95 L50.48 489.19 L52.45 491.4 L54.41 493.58 L56.35 495.72 L58.28 497.84 L60.2 499.92 L62.11 501.97 L64 503.99 L65.88 505.98 L67.74 507.95 L69.59 509.88 L71.43 511.78 L73.26 513.66 L75.07 515.51 L76.87 517.33 L78.66 519.13 L80.43 520.9 L82.19 522.64 L83.94 524.36 L85.68 526.05 L87.4 527.72 L89.11 529.36 L90.81 530.98 L92.5 532.58 L94.17 534.15 L95.83 535.7 L97.48 537.23 L99.12 538.74 L100.74 540.22 L102.35 541.68 L103.95 543.12 L105.54 544.54 L107.11 545.94 L108.68 547.32 L110.23 548.68 L111.77 550.01 L113.3 551.33 L114.81 552.63 L116.32 553.91 L117.81 555.17 L119.29 556.42 L120.76 557.64 L122.22 558.85 L123.66 560.04 L125.1 561.21 L126.52 562.36 L127.93 563.5 L129.33 564.62 L130.72 565.72 L132.1 566.81 L133.46 567.88 L134.82 568.94 L136.16 569.98 L137.49 571 L138.82 572.01 L140.13 573 L141.43 573.98 L142.71 574.95 L143.99 575.9 L145.26 576.83 L146.52 577.76 L147.76 578.66 L149 579.56 L150.22 580.44 L151.43 581.31 L152.64 582.16 L153.83 583 L155.01 583.83 L156.18 584.65 L157.34 585.45 L158.5 586.24 L159.64 587.02 L160.77 587.79 L161.89 588.54 L163 589.29 L164.1 590.02 L165.19 590.74 L166.27 591.45 L167.34 592.15 L168.4 592.84 L169.45 593.52 L170.49 594.18 L171.52 594.84 L172.54 595.49 L173.55 596.12 L174.55 596.75 L175.54 597.36 L176.53 597.97 L177.5 598.57 L178.46 599.16 L179.42 599.73 L180.36 600.3 L181.3 600.86 L182.22 601.41 L183.14 601.96 L184.05 602.49 L184.95 603.01 L185.84 603.53 L186.72 604.04 L187.59 604.54 L188.45 605.03 L189.31 605.51 L190.15 605.99 L190.99 606.46 L191.81 606.92 L192.63 607.37 L193.44 607.82 L194.24 608.25 L195.04 608.68 L195.82 609.11 L196.6 609.52 L197.36 609.93 L198.12 610.34 L198.87 610.73 L199.62 611.12 L200.35 611.51 L201.08 611.88 L201.79 612.25 L202.5 612.62 L203.21 612.97 L203.9 613.33 L204.58 613.67 L205.26 614.01 L205.93 614.35 L206.59 614.67 L207.25 615 L207.9 615.31 L208.53 615.63 L209.16 615.93 L209.79 616.23 L210.4 616.53 L211.01 616.82 L211.61 617.11 L212.21 617.39 L212.79 617.66 L213.37 617.93 L213.94 618.2 L214.51 618.46 L215.07 618.72 L215.62 618.97 L216.16 619.22 L216.69 619.46 L217.22 619.7 L217.74 619.94 L218.26 620.17 L218.77 620.39 L219.27 620.62 L219.76 620.84 L220.25 621.05 L220.73 621.26 L221.21 621.47 L221.67 621.67 L222.14 621.87 L222.59 622.07 L223.04 622.26 L223.48 622.45 L223.92 622.64 L224.35 622.82 L224.77 623 L225.19 623.17 L225.6 623.35 L226 623.52 L226.4 623.68 L226.79 623.85 L227.18 624.01 L227.56 624.16 L227.93 624.32 L228.3 624.47 L228.66 624.62 L229.02 624.77 L229.37 624.91 L229.72 625.05 L230.06 625.19 L230.39 625.33 L230.72 625.46 L231.05 625.59 L231.36 625.72 L231.68 625.85 L231.98 625.97 L232.29 626.1 L232.58 626.22 L232.88 626.33 L233.16 626.45 L233.44 626.56 L233.72 626.67 L233.99 626.78 L234.26 626.89 L234.52 627 L234.77 627.1 L235.03 627.2 L235.27 627.3 L235.51 627.4 L235.75 627.5 L235.99 627.59 L236.21 627.69 L236.44 627.78 L236.66 627.87 L236.87 627.96 L237.08 628.04 L237.29 628.13 L237.49 628.21 L237.68 628.29 L237.88 628.38 L238.07 628.46 L238.25 628.53 L238.43 628.61 L238.61 628.69 L238.78 628.76 L238.95 628.83 L239.11 628.91 L239.27 628.98 L239.43 629.05 L239.58 629.12 L239.73 629.18 L239.88 629.25 L240.02 629.31 L240.16 629.38 L240.29 629.44 L240.43 629.5 L240.55 629.56 L240.68 629.62 L240.8 629.68 L240.92 629.74 L241.03 629.8 L241.14 629.86 L241.25 629.91 L241.36 629.97 L241.46 630.02 L241.56 630.07 L241.65 630.12 L241.74 630.18 L241.83 630.23 L241.92 630.28 L242.01 630.33 L242.09 630.37 L242.17 630.42 L242.24 630.47 L242.32 630.52 L242.39 630.56 L242.46 630.61 L242.52 630.65 L242.59 630.69 L242.65 630.74 L242.71 630.78 L242.76 630.82 L242.82 630.86 L242.87 630.9 L242.92 630.94 L242.97 630.98 L243.01 631.02 L243.05 631.06 L243.1 631.09 L243.14 631.13 L243.17 631.17 L243.21 631.2 L243.24 631.24 L243.28 631.27 L243.31 631.31 L243.34 631.34 L243.36 631.37 L243.39 631.41 L243.41 631.44 L243.44 631.47 L243.46 631.5 L243.48 631.53 L243.5 631.56 L243.51 631.59 L243.53 631.62 L243.55 631.64 L243.56 631.67 L243.57 631.7 L243.58 631.72 L243.59 631.75 L243.6 631.77 L243.61 631.8 L243.62 631.82 L243.63 631.85 L243.63 631.87 L243.64 631.89 L243.64 631.91 L243.65 631.93 L243.65 631.95 L243.66 631.97 L243.66 631.99 L243.66 632 L243.66 632.02 L243.66 632.03 L243.66 632.05 L243.66 632.06 L243.66 632.07 L243.67 632.08 L243.67 632.09 L243.67 632.1 L243.67 632.1" fill="none" stroke="#3ca000" stroke-width="2.1" stroke-linejoin="round"/>
<path d="M36.3 473.88 L38.35 476.32 L40.39 478.72 L42.42 481.09 L44.43 483.41 L46.43 485.71 L48.41 487.97 L50.38 490.2 L52.34 492.39 L54.28 494.55 L56.21 496.68 L58.13 498.78 L60.03 500.84 L61.93 502.88 L63.8 504.88 L65.67 506.86 L67.52 508.81 L69.36 510.73 L71.19 512.62 L73 514.48 L74.8 516.32 L76.59 518.12 L78.36 519.91 L80.12 521.66 L81.87 523.39 L83.61 525.1 L85.33 526.78 L87.04 528.44 L88.74 530.07 L90.43 531.68 L92.1 533.26 L93.76 534.82 L95.41 536.36 L97.05 537.88 L98.68 539.37 L100.29 540.85 L101.89 542.3 L103.48 543.73 L105.05 545.14 L106.62 546.52 L108.17 547.89 L109.71 549.24 L111.24 550.57 L112.76 551.88 L114.26 553.17 L115.76 554.44 L117.24 555.69 L118.71 556.93 L120.17 558.14 L121.62 559.34 L123.05 560.52 L124.48 561.69 L125.89 562.83 L127.29 563.96 L128.68 565.07 L130.06 566.17 L131.43 567.25 L132.78 568.31 L134.13 569.36 L135.46 570.4 L136.79 571.41 L138.1 572.42 L139.4 573.4 L140.69 574.38 L141.97 575.33 L143.24 576.28 L144.5 577.21 L145.74 578.12 L146.98 579.02 L148.21 579.91 L149.42 580.79 L150.63 581.65 L151.82 582.5 L153.01 583.33 L154.18 584.16 L155.34 584.97 L156.5 585.77 L157.64 586.55 L158.77 587.33 L159.9 588.09 L161.01 588.84 L162.11 589.58 L163.2 590.31 L164.28 591.02 L165.36 591.73 L166.42 592.42 L167.47 593.11 L168.52 593.78 L169.55 594.44 L170.57 595.09 L171.59 595.74 L172.59 596.37 L173.58 596.99 L174.57 597.6 L175.54 598.2 L176.51 598.8 L177.47 599.38 L178.42 599.95 L179.35 600.52 L180.28 601.08 L181.2 601.62 L182.11 602.16 L183.01 602.69 L183.91 603.21 L184.79 603.73 L185.66 604.23 L186.53 604.73 L187.39 605.22 L188.23 605.7 L189.07 606.17 L189.9 606.63 L190.73 607.09 L191.54 607.54 L192.34 607.98 L193.14 608.42 L193.93 608.85 L194.7 609.27 L195.48 609.68 L196.24 610.09 L196.99 610.49 L197.74 610.88 L198.47 611.27 L199.2 611.65 L199.92 612.02 L200.64 612.39 L201.34 612.75 L202.04 613.11 L202.73 613.46 L203.41 613.8 L204.08 614.14 L204.75 614.47 L205.4 614.8 L206.05 615.12 L206.69 615.43 L207.33 615.74 L207.95 616.05 L208.57 616.35 L209.19 616.64 L209.79 616.93 L210.39 617.21 L210.98 617.49 L211.56 617.77 L212.13 618.03 L212.7 618.3 L213.26 618.56 L213.81 618.81 L214.36 619.07 L214.9 619.31 L215.43 619.55 L215.96 619.79 L216.47 620.02 L216.99 620.25 L217.49 620.48 L217.99 620.7 L218.48 620.92 L218.96 621.13 L219.44 621.34 L219.91 621.55 L220.38 621.75 L220.84 621.95 L221.29 622.14 L221.73 622.33 L222.17 622.52 L222.6 622.71 L223.03 622.89 L223.45 623.07 L223.86 623.24 L224.27 623.41 L224.67 623.58 L225.07 623.75 L225.46 623.91 L225.84 624.07 L226.22 624.22 L226.59 624.38 L226.96 624.53 L227.32 624.68 L227.67 624.82 L228.02 624.97 L228.37 625.11 L228.7 625.24 L229.04 625.38 L229.36 625.51 L229.68 625.64 L230 625.77 L230.31 625.9 L230.62 626.02 L230.91 626.14 L231.21 626.26 L231.5 626.38 L231.78 626.49 L232.06 626.61 L232.34 626.72 L232.61 626.82 L232.87 626.93 L233.13 627.04 L233.39 627.14 L233.64 627.24 L233.88 627.34 L234.12 627.44 L234.36 627.53 L234.59 627.63 L234.81 627.72 L235.04 627.81 L235.25 627.9 L235.47 627.99 L235.68 628.07 L235.88 628.16 L236.08 628.24 L236.28 628.32 L236.47 628.41 L236.65 628.48 L236.84 628.56 L237.02 628.64 L237.19 628.71 L237.36 628.79 L237.53 628.86 L237.69 628.93 L237.85 629 L238.01 629.07 L238.16 629.14 L238.31 629.21 L238.45 629.27 L238.59 629.34 L238.73 629.4 L238.87 629.46 L239 629.52 L239.12 629.58 L239.25 629.64 L239.37 629.7 L239.48 629.76 L239.6 629.82 L239.71 629.87 L239.82 629.93 L239.92 629.98 L240.02 630.04 L240.12 630.09 L240.21 630.14 L240.31 630.19 L240.4 630.24 L240.48 630.29 L240.57 630.34 L240.65 630.39 L240.73 630.44 L240.8 630.48 L240.87 630.53 L240.95 630.57 L241.01 630.62 L241.08 630.66 L241.14 630.7 L241.2 630.75 L241.26 630.79 L241.32 630.83 L241.37 630.87 L241.42 630.91 L241.47 630.95 L241.52 630.99 L241.56 631.03 L241.61 631.07 L241.65 631.1 L241.69 631.14 L241.73 631.18 L241.76 631.21 L241.8 631.25 L241.83 631.28 L241.86 631.31 L241.89 631.35 L241.91 631.38 L241.94 631.41 L241.96 631.44 L241.99 631.47 L242.01 631.5 L242.03 631.53 L242.05 631.56 L242.06 631.59 L242.08 631.62 L242.09 631.65 L242.11 631.68 L242.12 631.7 L242.13 631.73 L242.14 631.75 L242.15 631.78 L242.16 631.8 L242.17 631.82 L242.18 631.85 L242.18 631.87 L242.19 631.89 L242.19 631.91 L242.2 631.93 L242.2 631.95 L242.2 631.97 L242.21 631.99 L242.21 632 L242.21 632.02 L242.21 632.03 L242.21 632.05 L242.21 632.06 L242.21 632.07 L242.21 632.08 L242.21 632.09 L242.21 632.1 L242.21 632.1" fill="none" stroke="#fa0000" stroke-width="2.1" stroke-linejoin="round"/>
<text x="38" y="466.4" font-family='"Liberation Sans", sans-serif' font-size="10" font-weight="normal" text-anchor="start" fill="#000" textLength="25.5" lengthAdjust="spacingAndGlyphs"><tspan font-size="12">&#215;</tspan>10<tspan dy="-4.8" font-size="8">-3</tspan></text>
<rect x="178.4" y="474" width="75.7" height="25.6" fill="#fff" stroke="#a0a0a0" stroke-width="1"/>
<path d="M181.1 481.3 H201.4" stroke="#3ca000" stroke-width="1.6" stroke-linecap="round"/>
<path d="M181.1 493 H201.4" stroke="#fa0000" stroke-width="1.6" stroke-linecap="round"/>
<text x="204" y="485" font-family='"Liberation Sans", sans-serif' font-size="8.8" font-weight="bold" text-anchor="start" fill="#000" textLength="47.5" lengthAdjust="spacingAndGlyphs" stroke="#000" stroke-width="0.2">&#955; = 546 nm</text>
<text x="204" y="495.5" font-family='"Liberation Sans", sans-serif' font-size="8.8" font-weight="bold" text-anchor="start" fill="#000" textLength="47.5" lengthAdjust="spacingAndGlyphs" stroke="#000" stroke-width="0.2">&#955; = 633 nm</text>
<g transform="translate(18 575) rotate(-90)">
<text x="0" y="0" font-family='"Liberation Sans", sans-serif' font-size="10.5" font-weight="normal" text-anchor="start" fill="#000" textLength="48" lengthAdjust="spacingAndGlyphs" stroke="#000" stroke-width="0.3">dn<tspan dy="5.5" font-size="8.6">2</tspan><tspan dy="-5.5"> (RIU)</tspan></text>
</g>
<text x="127.2" y="660.8" font-family='"Liberation Sans", sans-serif' font-size="10.5" font-weight="normal" text-anchor="start" fill="#000" textLength="40.8" lengthAdjust="spacingAndGlyphs" stroke="#000" stroke-width="0.3">n<tspan dy="5.5" font-size="8.6">2</tspan><tspan dy="-5.5"> (RIU)</tspan></text>
<text x="127.9" y="683" font-family='"Liberation Sans", sans-serif' font-size="11.5" font-weight="normal" text-anchor="start" fill="#000" textLength="13.2" lengthAdjust="spacingAndGlyphs" stroke="#000" stroke-width="0.2">(e)</text>
<text x="134.3" y="559.5" font-family='"Liberation Sans", sans-serif' font-size="10.5" font-weight="bold" text-anchor="start" fill="#000" textLength="51.7" lengthAdjust="spacingAndGlyphs" stroke="#000" stroke-width="0.25">&#948;<tspan font-style="italic">&#966;</tspan> = 0.25<tspan dy="-4.2" font-size="7">0</tspan></text>
<rect x="222.8" y="619.8" width="24.6" height="18.2" fill="none" stroke="#1f2d50" stroke-width="1.4" stroke-dasharray="3.6 2.9"/>
<path d="M298.7 469.3 V632 H519.8" fill="none" stroke="#a2a2a2" stroke-width="1.2"/>
<path d="M298.7 632 v-2.2" stroke="#a2a2a2" stroke-width="1"/>
<path d="M368.66 632 v-2.2" stroke="#a2a2a2" stroke-width="1"/>
<path d="M438.63 632 v-2.2" stroke="#a2a2a2" stroke-width="1"/>
<path d="M508.59 632 v-2.2" stroke="#a2a2a2" stroke-width="1"/>
<path d="M298.7 632 h2.2" stroke="#a2a2a2" stroke-width="1"/>
<path d="M298.7 591.33 h2.2" stroke="#a2a2a2" stroke-width="1"/>
<path d="M298.7 550.65 h2.2" stroke="#a2a2a2" stroke-width="1"/>
<path d="M298.7 509.98 h2.2" stroke="#a2a2a2" stroke-width="1"/>
<path d="M298.7 469.3 h2.2" stroke="#a2a2a2" stroke-width="1"/>
<text x="294.4" y="636.2" font-family='"Liberation Sans", sans-serif' font-size="11.2" font-weight="bold" text-anchor="end" fill="#000" textLength="5.23" lengthAdjust="spacingAndGlyphs">0</text>
<text x="294.4" y="595.53" font-family='"Liberation Sans", sans-serif' font-size="11.2" font-weight="bold" text-anchor="end" fill="#000" textLength="13.07" lengthAdjust="spacingAndGlyphs">0.5</text>
<text x="294.4" y="554.85" font-family='"Liberation Sans", sans-serif' font-size="11.2" font-weight="bold" text-anchor="end" fill="#000" textLength="5.23" lengthAdjust="spacingAndGlyphs">1</text>
<text x="294.4" y="514.18" font-family='"Liberation Sans", sans-serif' font-size="11.2" font-weight="bold" text-anchor="end" fill="#000" textLength="13.07" lengthAdjust="spacingAndGlyphs">1.5</text>
<text x="294.4" y="473.5" font-family='"Liberation Sans", sans-serif' font-size="11.2" font-weight="bold" text-anchor="end" fill="#000" textLength="5.23" lengthAdjust="spacingAndGlyphs">2</text>
<text x="298.7" y="646.4" font-family='"Liberation Sans", sans-serif' font-size="11.2" font-weight="bold" text-anchor="middle" fill="#000" textLength="18.29" lengthAdjust="spacingAndGlyphs">1.45</text>
<text x="368.66" y="646.4" font-family='"Liberation Sans", sans-serif' font-size="11.2" font-weight="bold" text-anchor="middle" fill="#000" textLength="23.52" lengthAdjust="spacingAndGlyphs">1.455</text>
<text x="438.63" y="646.4" font-family='"Liberation Sans", sans-serif' font-size="11.2" font-weight="bold" text-anchor="middle" fill="#000" textLength="18.29" lengthAdjust="spacingAndGlyphs">1.46</text>
<text x="508.59" y="646.4" font-family='"Liberation Sans", sans-serif' font-size="11.2" font-weight="bold" text-anchor="middle" fill="#000" textLength="23.52" lengthAdjust="spacingAndGlyphs">1.465</text>
<path d="M298.7 483.72 L300.9 484.73 L303.09 485.73 L305.26 486.73 L307.42 487.72 L309.56 488.71 L311.69 489.69 L313.8 490.66 L315.9 491.63 L317.98 492.6 L320.05 493.56 L322.11 494.51 L324.15 495.46 L326.18 496.4 L328.19 497.34 L330.19 498.27 L332.18 499.19 L334.15 500.12 L336.11 501.03 L338.05 501.94 L339.98 502.85 L341.9 503.75 L343.8 504.65 L345.69 505.54 L347.57 506.42 L349.43 507.31 L351.28 508.18 L353.11 509.05 L354.94 509.92 L356.74 510.78 L358.54 511.64 L360.32 512.49 L362.09 513.34 L363.85 514.18 L365.59 515.02 L367.32 515.86 L369.03 516.69 L370.74 517.51 L372.43 518.33 L374.11 519.15 L375.77 519.96 L377.42 520.77 L379.06 521.57 L380.69 522.37 L382.3 523.16 L383.9 523.95 L385.49 524.74 L387.07 525.52 L388.63 526.3 L390.19 527.07 L391.73 527.84 L393.25 528.61 L394.77 529.37 L396.27 530.13 L397.76 530.88 L399.24 531.63 L400.71 532.37 L402.16 533.11 L403.61 533.85 L405.04 534.58 L406.46 535.31 L407.86 536.04 L409.26 536.76 L410.64 537.48 L412.01 538.19 L413.37 538.9 L414.72 539.61 L416.06 540.31 L417.39 541.01 L418.7 541.71 L420.01 542.4 L421.3 543.09 L422.58 543.78 L423.85 544.46 L425.11 545.14 L426.36 545.81 L427.59 546.48 L428.82 547.15 L430.03 547.81 L431.24 548.47 L432.43 549.13 L433.61 549.79 L434.78 550.44 L435.94 551.08 L437.09 551.73 L438.23 552.37 L439.36 553.01 L440.48 553.64 L441.59 554.27 L442.68 554.9 L443.77 555.53 L444.85 556.15 L445.92 556.77 L446.97 557.38 L448.02 557.99 L449.05 558.6 L450.08 559.21 L451.1 559.81 L452.1 560.41 L453.1 561.01 L454.08 561.61 L455.06 562.2 L456.03 562.79 L456.98 563.37 L457.93 563.95 L458.87 564.53 L459.8 565.11 L460.72 565.69 L461.63 566.26 L462.53 566.83 L463.42 567.39 L464.3 567.95 L465.17 568.51 L466.03 569.07 L466.88 569.63 L467.73 570.18 L468.56 570.73 L469.39 571.28 L470.21 571.82 L471.02 572.36 L471.81 572.9 L472.61 573.44 L473.39 573.97 L474.16 574.5 L474.92 575.03 L475.68 575.55 L476.43 576.08 L477.17 576.6 L477.9 577.12 L478.62 577.63 L479.33 578.15 L480.04 578.66 L480.73 579.16 L481.42 579.67 L482.1 580.17 L482.77 580.67 L483.44 581.17 L484.09 581.67 L484.74 582.16 L485.38 582.65 L486.01 583.14 L486.64 583.63 L487.25 584.11 L487.86 584.6 L488.46 585.08 L489.06 585.55 L489.64 586.03 L490.22 586.5 L490.79 586.97 L491.35 587.44 L491.91 587.9 L492.46 588.37 L493 588.83 L493.53 589.29 L494.06 589.75 L494.58 590.2 L495.09 590.65 L495.59 591.1 L496.09 591.55 L496.58 592 L497.07 592.44 L497.55 592.88 L498.02 593.32 L498.48 593.76 L498.94 594.19 L499.39 594.63 L499.83 595.06 L500.27 595.48 L500.7 595.91 L501.12 596.34 L501.54 596.76 L501.95 597.18 L502.36 597.59 L502.76 598.01 L503.15 598.42 L503.54 598.84 L503.92 599.25 L504.29 599.65 L504.66 600.06 L505.02 600.46 L505.38 600.86 L505.73 601.26 L506.07 601.66 L506.41 602.05 L506.74 602.45 L507.07 602.84 L507.39 603.23 L507.71 603.61 L508.02 604 L508.32 604.38 L508.62 604.76 L508.92 605.14 L509.21 605.51 L509.49 605.89 L509.77 606.26 L510.04 606.63 L510.31 607 L510.57 607.37 L510.83 607.73 L511.08 608.09 L511.33 608.45 L511.57 608.81 L511.81 609.17 L512.05 609.52 L512.27 609.87 L512.5 610.22 L512.72 610.57 L512.93 610.91 L513.14 611.26 L513.35 611.6 L513.55 611.94 L513.74 612.28 L513.94 612.61 L514.12 612.94 L514.31 613.28 L514.49 613.6 L514.66 613.93 L514.83 614.26 L515 614.58 L515.16 614.9 L515.32 615.22 L515.48 615.53 L515.63 615.85 L515.78 616.16 L515.92 616.47 L516.06 616.78 L516.2 617.08 L516.33 617.39 L516.46 617.69 L516.58 617.99 L516.7 618.28 L516.82 618.58 L516.94 618.87 L517.05 619.16 L517.16 619.45 L517.26 619.73 L517.37 620.02 L517.46 620.3 L517.56 620.58 L517.65 620.85 L517.74 621.13 L517.83 621.4 L517.91 621.67 L518 621.93 L518.07 622.2 L518.15 622.46 L518.22 622.72 L518.29 622.98 L518.36 623.23 L518.42 623.48 L518.49 623.73 L518.55 623.98 L518.61 624.23 L518.66 624.47 L518.71 624.71 L518.76 624.94 L518.81 625.18 L518.86 625.41 L518.9 625.64 L518.95 625.86 L518.99 626.09 L519.02 626.31 L519.06 626.53 L519.1 626.74 L519.13 626.95 L519.16 627.16 L519.19 627.37 L519.22 627.57 L519.24 627.77 L519.27 627.97 L519.29 628.16 L519.31 628.35 L519.33 628.54 L519.35 628.72 L519.37 628.9 L519.38 629.08 L519.4 629.25 L519.41 629.42 L519.42 629.59 L519.43 629.75 L519.44 629.91 L519.45 630.07 L519.46 630.22 L519.47 630.36 L519.48 630.51 L519.48 630.64 L519.49 630.78 L519.49 630.91 L519.5 631.03 L519.5 631.15 L519.5 631.26 L519.5 631.37 L519.51 631.47 L519.51 631.57 L519.51 631.66 L519.51 631.74 L519.51 631.81 L519.51 631.88 L519.51 631.93 L519.51 631.98 L519.51 632" fill="none" stroke="#3ca000" stroke-width="1.7" stroke-linejoin="round"/>
<path d="M298.7 505.32 L300.45 506.15 L302.18 506.96 L303.9 507.78 L305.61 508.59 L307.31 509.39 L309 510.2 L310.68 510.99 L312.34 511.79 L314 512.58 L315.64 513.36 L317.27 514.14 L318.89 514.92 L320.5 515.7 L322.1 516.46 L323.69 517.23 L325.26 517.99 L326.83 518.75 L328.38 519.51 L329.92 520.26 L331.45 521 L332.98 521.75 L334.48 522.48 L335.98 523.22 L337.47 523.95 L338.95 524.68 L340.42 525.4 L341.87 526.13 L343.32 526.84 L344.75 527.56 L346.18 528.27 L347.59 528.97 L348.99 529.68 L350.39 530.38 L351.77 531.07 L353.14 531.77 L354.5 532.46 L355.86 533.14 L357.2 533.82 L358.53 534.5 L359.85 535.18 L361.16 535.85 L362.46 536.52 L363.75 537.19 L365.03 537.85 L366.3 538.51 L367.56 539.17 L368.81 539.82 L370.06 540.47 L371.29 541.12 L372.51 541.76 L373.72 542.4 L374.92 543.04 L376.11 543.67 L377.3 544.31 L378.47 544.93 L379.63 545.56 L380.79 546.18 L381.93 546.8 L383.07 547.42 L384.19 548.03 L385.31 548.64 L386.42 549.25 L387.52 549.86 L388.6 550.46 L389.68 551.06 L390.75 551.65 L391.82 552.25 L392.87 552.84 L393.91 553.43 L394.95 554.01 L395.97 554.59 L396.99 555.17 L397.99 555.75 L398.99 556.33 L399.98 556.9 L400.96 557.47 L401.94 558.03 L402.9 558.6 L403.86 559.16 L404.8 559.72 L405.74 560.27 L406.67 560.83 L407.59 561.38 L408.5 561.93 L409.41 562.47 L410.3 563.01 L411.19 563.56 L412.07 564.09 L412.94 564.63 L413.8 565.16 L414.66 565.69 L415.5 566.22 L416.34 566.75 L417.17 567.27 L417.99 567.79 L418.81 568.31 L419.61 568.83 L420.41 569.34 L421.2 569.86 L421.98 570.36 L422.76 570.87 L423.53 571.38 L424.28 571.88 L425.04 572.38 L425.78 572.88 L426.52 573.37 L427.25 573.87 L427.97 574.36 L428.68 574.85 L429.39 575.34 L430.09 575.82 L430.78 576.3 L431.46 576.78 L432.14 577.26 L432.81 577.74 L433.47 578.21 L434.13 578.68 L434.78 579.15 L435.42 579.62 L436.05 580.09 L436.68 580.55 L437.3 581.01 L437.91 581.47 L438.52 581.93 L439.12 582.38 L439.71 582.84 L440.3 583.29 L440.88 583.74 L441.45 584.18 L442.01 584.63 L442.57 585.07 L443.13 585.51 L443.67 585.95 L444.21 586.39 L444.74 586.82 L445.27 587.26 L445.79 587.69 L446.31 588.12 L446.81 588.55 L447.32 588.97 L447.81 589.39 L448.3 589.82 L448.78 590.24 L449.26 590.65 L449.73 591.07 L450.19 591.48 L450.65 591.9 L451.11 592.31 L451.55 592.71 L451.99 593.12 L452.43 593.53 L452.86 593.93 L453.28 594.33 L453.7 594.73 L454.11 595.13 L454.52 595.52 L454.92 595.92 L455.31 596.31 L455.7 596.7 L456.09 597.09 L456.47 597.47 L456.84 597.86 L457.21 598.24 L457.57 598.62 L457.93 599 L458.28 599.38 L458.63 599.75 L458.97 600.13 L459.31 600.5 L459.64 600.87 L459.96 601.24 L460.28 601.6 L460.6 601.97 L460.91 602.33 L461.22 602.69 L461.52 603.05 L461.82 603.41 L462.11 603.77 L462.4 604.12 L462.68 604.47 L462.96 604.83 L463.23 605.17 L463.5 605.52 L463.76 605.87 L464.02 606.21 L464.28 606.55 L464.53 606.89 L464.78 607.23 L465.02 607.57 L465.26 607.9 L465.49 608.24 L465.72 608.57 L465.94 608.9 L466.16 609.23 L466.38 609.55 L466.59 609.88 L466.8 610.2 L467.01 610.52 L467.21 610.84 L467.4 611.16 L467.6 611.48 L467.79 611.79 L467.97 612.1 L468.15 612.41 L468.33 612.72 L468.5 613.03 L468.67 613.33 L468.84 613.64 L469 613.94 L469.16 614.24 L469.32 614.54 L469.47 614.83 L469.62 615.13 L469.77 615.42 L469.91 615.71 L470.05 616 L470.18 616.29 L470.31 616.57 L470.44 616.85 L470.57 617.14 L470.69 617.42 L470.81 617.69 L470.93 617.97 L471.04 618.24 L471.15 618.51 L471.26 618.79 L471.37 619.05 L471.47 619.32 L471.57 619.58 L471.67 619.85 L471.76 620.11 L471.85 620.37 L471.94 620.62 L472.03 620.88 L472.11 621.13 L472.19 621.38 L472.27 621.63 L472.35 621.88 L472.42 622.12 L472.49 622.36 L472.56 622.6 L472.63 622.84 L472.69 623.08 L472.75 623.31 L472.81 623.55 L472.87 623.78 L472.93 624 L472.98 624.23 L473.03 624.45 L473.08 624.67 L473.13 624.89 L473.17 625.11 L473.22 625.32 L473.26 625.54 L473.3 625.75 L473.34 625.95 L473.38 626.16 L473.41 626.36 L473.45 626.56 L473.48 626.76 L473.51 626.96 L473.54 627.15 L473.56 627.34 L473.59 627.53 L473.61 627.71 L473.64 627.89 L473.66 628.07 L473.68 628.25 L473.7 628.43 L473.72 628.6 L473.73 628.77 L473.75 628.93 L473.76 629.09 L473.78 629.25 L473.79 629.41 L473.8 629.57 L473.81 629.72 L473.82 629.86 L473.83 630.01 L473.84 630.15 L473.85 630.29 L473.85 630.42 L473.86 630.55 L473.87 630.67 L473.87 630.8 L473.87 630.92 L473.88 631.03 L473.88 631.14 L473.88 631.24 L473.89 631.35 L473.89 631.44 L473.89 631.53 L473.89 631.62 L473.89 631.7 L473.89 631.77 L473.89 631.83 L473.89 631.89 L473.89 631.94 L473.89 631.98 L473.89 632" fill="none" stroke="#fa0000" stroke-width="1.7" stroke-linejoin="round"/>
<text x="300" y="465.9" font-family='"Liberation Sans", sans-serif' font-size="10" font-weight="normal" text-anchor="start" fill="#000" textLength="25" lengthAdjust="spacingAndGlyphs"><tspan font-size="12">&#215;</tspan>10<tspan dy="-4.8" font-size="8">-4</tspan></text>
<rect x="439.5" y="474.3" width="75.5" height="25.1" fill="#fff" stroke="#a0a0a0" stroke-width="1"/>
<path d="M441.7 480.9 H461.9" stroke="#3ca000" stroke-width="1.6" stroke-linecap="round"/>
<path d="M441.7 492.8 H461.9" stroke="#fa0000" stroke-width="1.6" stroke-linecap="round"/>
<text x="464.4" y="484.9" font-family='"Liberation Sans", sans-serif' font-size="8.8" font-weight="bold" text-anchor="start" fill="#000" textLength="47.2" lengthAdjust="spacingAndGlyphs" stroke="#000" stroke-width="0.2">&#955; = 546 nm</text>
<text x="464.4" y="496.2" font-family='"Liberation Sans", sans-serif' font-size="8.8" font-weight="bold" text-anchor="start" fill="#000" textLength="47.2" lengthAdjust="spacingAndGlyphs" stroke="#000" stroke-width="0.2">&#955; = 633 nm</text>
<g transform="translate(271.5 575.7) rotate(-90)">
<text x="0" y="0" font-family='"Liberation Sans", sans-serif' font-size="10.5" font-weight="normal" text-anchor="start" fill="#000" textLength="49.3" lengthAdjust="spacingAndGlyphs" stroke="#000" stroke-width="0.3">dn<tspan dy="5.5" font-size="8.6">2</tspan><tspan dy="-5.5"> (RIU)</tspan></text>
</g>
<text x="388.7" y="660.8" font-family='"Liberation Sans", sans-serif' font-size="10.5" font-weight="normal" text-anchor="start" fill="#000" textLength="40.3" lengthAdjust="spacingAndGlyphs" stroke="#000" stroke-width="0.3">n<tspan dy="5.5" font-size="8.6">2</tspan><tspan dy="-5.5"> (RIU)</tspan></text>
<text x="397.3" y="683" font-family='"Liberation Sans", sans-serif' font-size="11.5" font-weight="normal" text-anchor="start" fill="#000" textLength="11.2" lengthAdjust="spacingAndGlyphs" stroke="#000" stroke-width="0.2">(f)</text>
<text x="378.1" y="519.8" font-family='"Liberation Sans", sans-serif' font-size="10.5" font-weight="bold" text-anchor="start" fill="#000" textLength="53.4" lengthAdjust="spacingAndGlyphs" stroke="#000" stroke-width="0.25">&#948;<tspan font-style="italic">&#966;</tspan> = 0.25<tspan dy="-4.2" font-size="7">0</tspan></text>
<rect x="332.4" y="555.9" width="63.1" height="30.1" rx="1.5" fill="#f5f5fa" stroke="#cacad2" stroke-width="1"/>
<text x="391.6" y="568.7" font-family='"Liberation Serif", serif' font-size="10.3" font-weight="normal" text-anchor="end" fill="#333">X 1.457</text>
<text x="391.6" y="580.6" font-family='"Liberation Serif", serif' font-size="10.3" font-weight="normal" text-anchor="end" fill="#333">Y 9.4507e-05</text>
<rect x="440.6" y="522.8" width="68.5" height="29.4" rx="1.5" fill="#f5f5fa" stroke="#cacad2" stroke-width="1"/>
<text x="444.4" y="535.3" font-family='"Liberation Serif", serif' font-size="10.3" font-weight="normal" text-anchor="start" fill="#333">X 1.4601</text>
<text x="444.4" y="546.6" font-family='"Liberation Serif", serif' font-size="10.3" font-weight="normal" text-anchor="start" fill="#333">Y 9.65426e-05</text>
<circle cx="396.65" cy="554.98" r="1.25" fill="#111"/>
<circle cx="440.03" cy="553.39" r="1.25" fill="#111"/>
<defs><marker id="ah" viewBox="0 0 10 10" refX="9" refY="5" markerWidth="3.2" markerHeight="3.2" orient="auto"><path d="M0 0 L10 5 L0 10 z" fill="#22b04a"/></marker></defs>
<path d="M263.5 4.2 L282.4 9.9" stroke="#22b04a" stroke-width="1.5" stroke-dasharray="3 2" fill="none" marker-end="url(#ah)"/>
<path d="M263.5 63 L275.6 177.2" stroke="#22b04a" stroke-width="1.5" stroke-dasharray="3 2" fill="none" marker-end="url(#ah)"/>
<path d="M261 227.2 L288.9 235.4" stroke="#22b04a" stroke-width="1.5" stroke-dasharray="3 2" fill="none" marker-end="url(#ah)"/>
<path d="M260.5 397.4 L279.6 404.1" stroke="#22b04a" stroke-width="1.5" stroke-dasharray="3 2" fill="none" marker-end="url(#ah)"/>
<path d="M247.4 617 L272.1 473.1" stroke="#22b04a" stroke-width="1.5" stroke-dasharray="3 2" fill="none" marker-end="url(#ah)"/>
<path d="M247.4 628.7 L281.1 639.5" stroke="#22b04a" stroke-width="1.5" stroke-dasharray="3 2" fill="none" marker-end="url(#ah)"/>
<path d="M266.3 190.7 L270 192.6 L266.3 194.5 z" fill="#2050d0"/>
</g>
</svg>
</body></html>
